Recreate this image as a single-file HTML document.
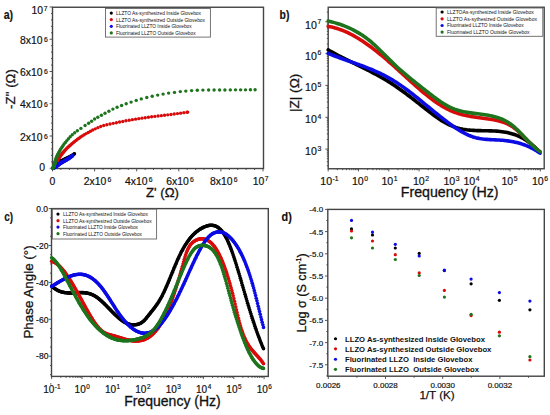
<!DOCTYPE html>
<html><head><meta charset="utf-8"><title>Figure</title><style>html,body{margin:0;padding:0;background:#fff;overflow:hidden;}svg{display:block;}text{font-family:"Liberation Sans",sans-serif;}</style></head><body>
<svg width="550" height="415" viewBox="0 0 550 415">
<rect width="550" height="415" fill="#fff"/>
<g id="pa">
<rect x="52.5" y="7.25" width="211" height="161.25" fill="none" stroke="#444444" stroke-width="1.4"/>
<path d="M49.6 168.25H52.5 M51 161.8H52.5 M51 155.35H52.5 M51 148.9H52.5 M51 142.45H52.5 M49.6 136H52.5 M51 129.55H52.5 M51 123.1H52.5 M51 116.65H52.5 M51 110.2H52.5 M49.6 103.75H52.5 M51 97.3H52.5 M51 90.85H52.5 M51 84.4H52.5 M51 77.95H52.5 M49.6 71.5H52.5 M51 65.05H52.5 M51 58.6H52.5 M51 52.15H52.5 M51 45.7H52.5 M49.6 39.25H52.5 M51 32.8H52.5 M51 26.35H52.5 M51 19.9H52.5 M51 13.45H52.5 M49.6 7H52.5 M52.5 168.5V171.4 M60.92 168.5V170 M69.34 168.5V170 M77.76 168.5V170 M86.18 168.5V170 M94.6 168.5V171.4 M103.02 168.5V170 M111.44 168.5V170 M119.86 168.5V170 M128.28 168.5V170 M136.7 168.5V171.4 M145.12 168.5V170 M153.54 168.5V170 M161.96 168.5V170 M170.38 168.5V170 M178.8 168.5V171.4 M187.22 168.5V170 M195.64 168.5V170 M204.06 168.5V170 M212.48 168.5V170 M220.9 168.5V171.4 M229.32 168.5V170 M237.74 168.5V170 M246.16 168.5V170 M254.58 168.5V170 M263 168.5V171.4" stroke="#444444" stroke-width="0.9" fill="none"/>
</g>
<g id="pa-curves">
<g fill="#000000"><circle cx="53.1" cy="168.2" r="1.75"/><circle cx="53.29" cy="167.97" r="1.75"/><circle cx="53.48" cy="167.74" r="1.75"/><circle cx="53.68" cy="167.51" r="1.75"/><circle cx="53.87" cy="167.28" r="1.75"/><circle cx="54.07" cy="167.06" r="1.75"/><circle cx="54.27" cy="166.83" r="1.75"/><circle cx="54.48" cy="166.61" r="1.75"/><circle cx="54.68" cy="166.39" r="1.75"/><circle cx="54.88" cy="166.17" r="1.75"/><circle cx="55.09" cy="165.95" r="1.75"/><circle cx="55.3" cy="165.74" r="1.75"/><circle cx="55.52" cy="165.53" r="1.75"/><circle cx="55.73" cy="165.32" r="1.75"/><circle cx="55.95" cy="165.11" r="1.75"/><circle cx="56.16" cy="164.91" r="1.75"/><circle cx="56.39" cy="164.7" r="1.75"/><circle cx="56.61" cy="164.5" r="1.75"/><circle cx="56.83" cy="164.3" r="1.75"/><circle cx="57.06" cy="164.11" r="1.75"/><circle cx="57.29" cy="163.91" r="1.75"/><circle cx="57.52" cy="163.72" r="1.75"/><circle cx="57.76" cy="163.52" r="1.75"/><circle cx="58.02" cy="163.31" r="1.75"/><circle cx="58.29" cy="163.09" r="1.75"/><circle cx="58.58" cy="162.87" r="1.75"/><circle cx="58.88" cy="162.64" r="1.75"/><circle cx="59.2" cy="162.4" r="1.75"/><circle cx="59.54" cy="162.15" r="1.75"/><circle cx="59.9" cy="161.9" r="1.75"/><circle cx="60.29" cy="161.64" r="1.75"/><circle cx="60.69" cy="161.37" r="1.75"/><circle cx="61.12" cy="161.1" r="1.75"/><circle cx="61.58" cy="160.82" r="1.75"/><circle cx="62.06" cy="160.53" r="1.75"/><circle cx="62.58" cy="160.24" r="1.75"/><circle cx="63.12" cy="159.95" r="1.75"/><circle cx="63.69" cy="159.64" r="1.75"/><circle cx="64.3" cy="159.33" r="1.75"/><circle cx="64.93" cy="159" r="1.75"/><circle cx="65.6" cy="158.66" r="1.75"/><circle cx="66.3" cy="158.3" r="1.75"/><circle cx="67.03" cy="157.93" r="1.75"/><circle cx="67.81" cy="157.55" r="1.75"/><circle cx="68.64" cy="157.16" r="1.75"/><circle cx="69.5" cy="156.75" r="1.75"/><circle cx="70.39" cy="156.31" r="1.75"/><circle cx="71.32" cy="155.82" r="1.75"/><circle cx="72.27" cy="155.26" r="1.75"/><circle cx="73.24" cy="154.62" r="1.75"/><circle cx="74.22" cy="153.93" r="1.75"/><circle cx="74.4" cy="153.8" r="1.75"/></g>
<g fill="#d80b0b"><circle cx="53.1" cy="168.2" r="1.7"/><circle cx="53.23" cy="167.92" r="1.7"/><circle cx="53.37" cy="167.65" r="1.7"/><circle cx="53.51" cy="167.37" r="1.7"/><circle cx="53.63" cy="167.12" r="1.7"/><circle cx="53.77" cy="166.85" r="1.7"/><circle cx="53.91" cy="166.58" r="1.7"/><circle cx="54.05" cy="166.3" r="1.7"/><circle cx="54.18" cy="166.05" r="1.7"/><circle cx="54.32" cy="165.78" r="1.7"/><circle cx="54.47" cy="165.51" r="1.7"/><circle cx="54.61" cy="165.24" r="1.7"/><circle cx="54.74" cy="164.99" r="1.7"/><circle cx="54.89" cy="164.72" r="1.7"/><circle cx="55.04" cy="164.46" r="1.7"/><circle cx="55.19" cy="164.19" r="1.7"/><circle cx="55.32" cy="163.94" r="1.7"/><circle cx="55.47" cy="163.68" r="1.7"/><circle cx="55.62" cy="163.41" r="1.7"/><circle cx="55.77" cy="163.14" r="1.7"/><circle cx="55.91" cy="162.9" r="1.7"/><circle cx="56.07" cy="162.64" r="1.7"/><circle cx="56.23" cy="162.35" r="1.7"/><circle cx="56.4" cy="162.07" r="1.7"/><circle cx="56.57" cy="161.78" r="1.7"/><circle cx="56.77" cy="161.45" r="1.7"/><circle cx="56.96" cy="161.13" r="1.7"/><circle cx="57.18" cy="160.78" r="1.7"/><circle cx="57.39" cy="160.43" r="1.7"/><circle cx="57.64" cy="160.04" r="1.7"/><circle cx="57.88" cy="159.65" r="1.7"/><circle cx="58.14" cy="159.24" r="1.7"/><circle cx="58.42" cy="158.81" r="1.7"/><circle cx="58.72" cy="158.37" r="1.7"/><circle cx="59.03" cy="157.9" r="1.7"/><circle cx="59.36" cy="157.41" r="1.7"/><circle cx="59.73" cy="156.89" r="1.7"/><circle cx="60.11" cy="156.35" r="1.7"/><circle cx="60.51" cy="155.79" r="1.7"/><circle cx="60.94" cy="155.22" r="1.7"/><circle cx="61.4" cy="154.61" r="1.7"/><circle cx="61.88" cy="153.99" r="1.7"/><circle cx="62.41" cy="153.32" r="1.7"/><circle cx="62.96" cy="152.65" r="1.7"/><circle cx="63.55" cy="151.94" r="1.7"/><circle cx="64.18" cy="151.2" r="1.7"/><circle cx="64.84" cy="150.46" r="1.7"/><circle cx="65.57" cy="149.67" r="1.7"/><circle cx="66.34" cy="148.86" r="1.7"/><circle cx="67.17" cy="148.04" r="1.7"/><circle cx="68.05" cy="147.19" r="1.7"/><circle cx="69.02" cy="146.32" r="1.7"/><circle cx="70.04" cy="145.43" r="1.7"/><circle cx="71.11" cy="144.51" r="1.7"/><circle cx="72.25" cy="143.53" r="1.7"/><circle cx="73.44" cy="142.53" r="1.7"/><circle cx="74.7" cy="141.49" r="1.7"/><circle cx="76.04" cy="140.42" r="1.7"/><circle cx="77.47" cy="139.32" r="1.7"/><circle cx="78.99" cy="138.2" r="1.7"/><circle cx="80.62" cy="137.05" r="1.7"/><circle cx="82.34" cy="135.9" r="1.7"/><circle cx="84.21" cy="134.75" r="1.7"/><circle cx="86.18" cy="133.62" r="1.7"/><circle cx="88.27" cy="132.45" r="1.7"/><circle cx="90.45" cy="131.22" r="1.7"/><circle cx="92.78" cy="130" r="1.7"/><circle cx="95.27" cy="128.84" r="1.7"/><circle cx="97.9" cy="127.67" r="1.7"/><circle cx="100.7" cy="126.54" r="1.7"/><circle cx="103.71" cy="125.52" r="1.7"/><circle cx="106.85" cy="124.69" r="1.7"/><circle cx="110.02" cy="124" r="1.7"/><circle cx="113.2" cy="123.35" r="1.7"/><circle cx="116.38" cy="122.68" r="1.7"/><circle cx="119.58" cy="122.05" r="1.7"/><circle cx="122.76" cy="121.43" r="1.7"/><circle cx="125.94" cy="120.82" r="1.7"/><circle cx="129.16" cy="120.22" r="1.7"/><circle cx="132.35" cy="119.66" r="1.7"/><circle cx="135.57" cy="119.13" r="1.7"/><circle cx="138.77" cy="118.63" r="1.7"/><circle cx="141.97" cy="118.15" r="1.7"/><circle cx="145.21" cy="117.69" r="1.7"/><circle cx="148.42" cy="117.25" r="1.7"/><circle cx="151.63" cy="116.82" r="1.7"/><circle cx="154.87" cy="116.41" r="1.7"/><circle cx="158.08" cy="116.02" r="1.7"/><circle cx="161.33" cy="115.64" r="1.7"/><circle cx="164.55" cy="115.26" r="1.7"/><circle cx="167.76" cy="114.87" r="1.7"/><circle cx="171" cy="114.45" r="1.7"/><circle cx="174.21" cy="114.02" r="1.7"/><circle cx="177.45" cy="113.58" r="1.7"/><circle cx="180.66" cy="113.13" r="1.7"/><circle cx="183.86" cy="112.67" r="1.7"/><circle cx="187.09" cy="112.19" r="1.7"/><circle cx="187.7" cy="112.1" r="1.7"/></g>
<g fill="#0b0be4"><circle cx="53.1" cy="168.2" r="1.95"/><circle cx="53.36" cy="168.04" r="1.95"/><circle cx="53.61" cy="167.88" r="1.95"/><circle cx="53.87" cy="167.72" r="1.95"/><circle cx="54.12" cy="167.56" r="1.95"/><circle cx="54.37" cy="167.4" r="1.95"/><circle cx="54.62" cy="167.24" r="1.95"/><circle cx="54.88" cy="167.08" r="1.95"/><circle cx="55.13" cy="166.91" r="1.95"/><circle cx="55.38" cy="166.75" r="1.95"/><circle cx="55.63" cy="166.59" r="1.95"/><circle cx="55.88" cy="166.42" r="1.95"/><circle cx="56.13" cy="166.25" r="1.95"/><circle cx="56.38" cy="166.08" r="1.95"/><circle cx="56.62" cy="165.91" r="1.95"/><circle cx="56.87" cy="165.74" r="1.95"/><circle cx="57.12" cy="165.57" r="1.95"/><circle cx="57.36" cy="165.39" r="1.95"/><circle cx="57.6" cy="165.21" r="1.95"/><circle cx="57.84" cy="165.03" r="1.95"/><circle cx="58.08" cy="164.85" r="1.95"/><circle cx="58.32" cy="164.67" r="1.95"/><circle cx="58.57" cy="164.48" r="1.95"/><circle cx="58.83" cy="164.28" r="1.95"/><circle cx="59.11" cy="164.07" r="1.95"/><circle cx="59.41" cy="163.86" r="1.95"/><circle cx="59.71" cy="163.63" r="1.95"/><circle cx="60.04" cy="163.4" r="1.95"/><circle cx="60.39" cy="163.16" r="1.95"/><circle cx="60.76" cy="162.92" r="1.95"/><circle cx="61.16" cy="162.68" r="1.95"/><circle cx="61.58" cy="162.43" r="1.95"/><circle cx="62.03" cy="162.18" r="1.95"/><circle cx="62.5" cy="161.93" r="1.95"/><circle cx="63" cy="161.66" r="1.95"/><circle cx="63.53" cy="161.39" r="1.95"/><circle cx="64.09" cy="161.11" r="1.95"/><circle cx="64.67" cy="160.81" r="1.95"/><circle cx="65.27" cy="160.49" r="1.95"/><circle cx="65.9" cy="160.14" r="1.95"/><circle cx="66.55" cy="159.75" r="1.95"/><circle cx="67.23" cy="159.34" r="1.95"/><circle cx="67.94" cy="158.9" r="1.95"/><circle cx="68.68" cy="158.43" r="1.95"/><circle cx="69.45" cy="157.93" r="1.95"/><circle cx="70.25" cy="157.38" r="1.95"/><circle cx="71.07" cy="156.79" r="1.95"/><circle cx="71.91" cy="156.13" r="1.95"/><circle cx="72.6" cy="155.5" r="1.95"/></g>
<g fill="#1d741d"><circle cx="53.1" cy="168.2" r="1.7"/><circle cx="53.22" cy="167.91" r="1.7"/><circle cx="53.34" cy="167.63" r="1.7"/><circle cx="53.45" cy="167.34" r="1.7"/><circle cx="53.56" cy="167.09" r="1.7"/><circle cx="53.67" cy="166.8" r="1.7"/><circle cx="53.78" cy="166.51" r="1.7"/><circle cx="53.89" cy="166.22" r="1.7"/><circle cx="53.99" cy="165.97" r="1.7"/><circle cx="54.1" cy="165.68" r="1.7"/><circle cx="54.2" cy="165.39" r="1.7"/><circle cx="54.3" cy="165.1" r="1.7"/><circle cx="54.4" cy="164.81" r="1.7"/><circle cx="54.48" cy="164.55" r="1.7"/><circle cx="54.57" cy="164.25" r="1.7"/><circle cx="54.67" cy="163.92" r="1.7"/><circle cx="54.78" cy="163.55" r="1.7"/><circle cx="54.88" cy="163.17" r="1.7"/><circle cx="54.99" cy="162.76" r="1.7"/><circle cx="55.11" cy="162.31" r="1.7"/><circle cx="55.23" cy="161.86" r="1.7"/><circle cx="55.37" cy="161.33" r="1.7"/><circle cx="55.51" cy="160.77" r="1.7"/><circle cx="55.67" cy="160.17" r="1.7"/><circle cx="55.86" cy="159.49" r="1.7"/><circle cx="56.07" cy="158.79" r="1.7"/><circle cx="56.3" cy="158.06" r="1.7"/><circle cx="56.59" cy="157.27" r="1.7"/><circle cx="56.92" cy="156.41" r="1.7"/><circle cx="57.31" cy="155.49" r="1.7"/><circle cx="57.76" cy="154.5" r="1.7"/><circle cx="58.26" cy="153.48" r="1.7"/><circle cx="58.83" cy="152.38" r="1.7"/><circle cx="59.48" cy="151.18" r="1.7"/><circle cx="60.19" cy="149.93" r="1.7"/><circle cx="61" cy="148.58" r="1.7"/><circle cx="61.91" cy="147.15" r="1.7"/><circle cx="62.94" cy="145.65" r="1.7"/><circle cx="64.12" cy="144.06" r="1.7"/><circle cx="65.44" cy="142.38" r="1.7"/><circle cx="66.87" cy="140.6" r="1.7"/><circle cx="68.44" cy="138.73" r="1.7"/><circle cx="70.24" cy="136.75" r="1.7"/><circle cx="72.28" cy="134.77" r="1.7"/><circle cx="74.68" cy="132.81" r="1.7"/><circle cx="77.35" cy="130.82" r="1.7"/><circle cx="80.9" cy="128.4" r="1.7"/><circle cx="85.1" cy="125.57" r="1.7"/><circle cx="88.6" cy="123.18" r="1.7"/><circle cx="91.6" cy="121.25" r="1.7"/><circle cx="94.6" cy="119.02" r="1.7"/><circle cx="97.8" cy="117.24" r="1.7"/><circle cx="101.4" cy="115.18" r="1.7"/><circle cx="105" cy="113.19" r="1.7"/><circle cx="108.9" cy="111.2" r="1.7"/><circle cx="112.9" cy="109.09" r="1.7"/><circle cx="117.1" cy="107.3" r="1.7"/><circle cx="121.6" cy="105.49" r="1.7"/><circle cx="126.2" cy="103.7" r="1.7"/><circle cx="131.1" cy="102.09" r="1.7"/><circle cx="136.2" cy="100.39" r="1.7"/><circle cx="141.3" cy="98.9" r="1.7"/><circle cx="146.8" cy="97.49" r="1.7"/><circle cx="152.2" cy="96.29" r="1.7"/><circle cx="157.7" cy="95.1" r="1.7"/><circle cx="163.1" cy="94.1" r="1.7"/><circle cx="168.6" cy="93.1" r="1.7"/><circle cx="174.5" cy="92.4" r="1.7"/><circle cx="180.3" cy="91.6" r="1.7"/><circle cx="185.8" cy="91.1" r="1.7"/><circle cx="191.6" cy="90.6" r="1.7"/><circle cx="197.3" cy="90.3" r="1.7"/><circle cx="202.9" cy="90.1" r="1.7"/><circle cx="208.6" cy="90.04" r="1.7"/><circle cx="214.1" cy="90" r="1.7"/><circle cx="219.6" cy="89.96" r="1.7"/><circle cx="224.9" cy="89.93" r="1.7"/><circle cx="230.3" cy="89.9" r="1.7"/><circle cx="235.5" cy="89.87" r="1.7"/><circle cx="240.6" cy="89.85" r="1.7"/><circle cx="245.5" cy="89.83" r="1.7"/><circle cx="250.4" cy="89.81" r="1.7"/><circle cx="255.1" cy="89.8" r="1.7"/></g>
</g>
<g fill="#111" stroke="#111" stroke-width="0.18">
<text x="43.1" y="14.3" font-size="10.4" text-anchor="end">10</text><text x="43.8" y="10.6" font-size="6.8">7</text>
<text x="42.6" y="43.85" font-size="10.4" text-anchor="end">8x10</text><text x="43.9" y="42.05" font-size="6.8">6</text>
<text x="42.6" y="76.1" font-size="10.4" text-anchor="end">6x10</text><text x="43.9" y="74.3" font-size="6.8">6</text>
<text x="42.6" y="108.35" font-size="10.4" text-anchor="end">4x10</text><text x="43.9" y="106.55" font-size="6.8">6</text>
<text x="42.6" y="140.6" font-size="10.4" text-anchor="end">2x10</text><text x="43.9" y="138.8" font-size="6.8">6</text>
<text x="45" y="171.2" font-size="10.4" text-anchor="end">0</text>
<text x="52.3" y="184.8" font-size="10.4" text-anchor="middle">0</text>
<text x="83.83" y="184.8" font-size="10.4">2x10</text><text x="107.59" y="181.9" font-size="6.8">6</text>
<text x="125.03" y="184.8" font-size="10.4">4x10</text><text x="148.79" y="181.9" font-size="6.8">6</text>
<text x="166.23" y="184.8" font-size="10.4">6x10</text><text x="189.99" y="181.9" font-size="6.8">6</text>
<text x="209.93" y="184.8" font-size="10.4">8x10</text><text x="233.69" y="181.9" font-size="6.8">6</text>
<text x="252.78" y="184.8" font-size="10.4">10</text><text x="264.84" y="181.1" font-size="6.8">7</text>
<text x="162.5" y="197.4" font-size="13.2" text-anchor="middle" stroke-width="0.3">Z' (Ω)</text>
<text transform="translate(15.3 89.1) rotate(-90)" stroke-width="0.3" text-anchor="middle" font-size="13.2">-Z'' (Ω)</text>
<text x="3.7" y="19.4" font-size="12" font-weight="bold" textLength="9.4" lengthAdjust="spacingAndGlyphs">a)</text>
</g>
<rect x="105.5" y="8.5" width="104.9" height="28.6" fill="#fff" stroke="#666" stroke-width="0.9"/>
<circle cx="111.3" cy="13.09" r="1.6" fill="#000000"/>
<text x="116" y="15" font-size="5.3" textLength="85" lengthAdjust="spacingAndGlyphs" fill="#111">LLZTO As-synthesized Inside Glovebox</text>
<circle cx="111.3" cy="19.59" r="1.6" fill="#d80b0b"/>
<text x="116" y="21.5" font-size="5.3" textLength="89" lengthAdjust="spacingAndGlyphs" fill="#111">LLZTO As-synthesized Outside Glovebox</text>
<circle cx="111.3" cy="26.29" r="1.6" fill="#0b0be4"/>
<text x="116" y="28.2" font-size="5.3" textLength="75.6" lengthAdjust="spacingAndGlyphs" fill="#111">Fluorinated LLZTO Inside Glovebox</text>
<circle cx="111.3" cy="32.89" r="1.6" fill="#1d741d"/>
<text x="116" y="34.8" font-size="5.3" textLength="79.6" lengthAdjust="spacingAndGlyphs" fill="#111">Fluorinated LLZTO Outside Glovebox</text>
<rect x="328.2" y="7.25" width="216" height="161.5" fill="none" stroke="#444444" stroke-width="1.4"/>
<path d="M325.4 149.1H328.2 M325.4 117.25H328.2 M325.4 85.4H328.2 M325.4 53.55H328.2 M325.4 21.7H328.2 M326.8 165.75H328.2 M326.8 161.77H328.2 M326.8 158.69H328.2 M326.8 156.17H328.2 M326.8 154.03H328.2 M326.8 152.19H328.2 M326.8 150.56H328.2 M326.8 139.51H328.2 M326.8 133.9H328.2 M326.8 129.92H328.2 M326.8 126.84H328.2 M326.8 124.32H328.2 M326.8 122.18H328.2 M326.8 120.34H328.2 M326.8 118.71H328.2 M326.8 107.66H328.2 M326.8 102.05H328.2 M326.8 98.07H328.2 M326.8 94.99H328.2 M326.8 92.47H328.2 M326.8 90.33H328.2 M326.8 88.49H328.2 M326.8 86.86H328.2 M326.8 75.81H328.2 M326.8 70.2H328.2 M326.8 66.22H328.2 M326.8 63.14H328.2 M326.8 60.62H328.2 M326.8 58.48H328.2 M326.8 56.64H328.2 M326.8 55.01H328.2 M326.8 43.96H328.2 M326.8 38.35H328.2 M326.8 34.37H328.2 M326.8 31.29H328.2 M326.8 28.77H328.2 M326.8 26.63H328.2 M326.8 24.79H328.2 M326.8 23.16H328.2 M326.8 12.11H328.2 M328.2 168.75V171.4 M337.32 168.75V170.2 M342.66 168.75V170.2 M346.44 168.75V170.2 M349.38 168.75V170.2 M351.78 168.75V170.2 M353.81 168.75V170.2 M355.56 168.75V170.2 M357.11 168.75V170.2 M358.5 168.75V171.4 M367.62 168.75V170.2 M372.96 168.75V170.2 M376.74 168.75V170.2 M379.68 168.75V170.2 M382.08 168.75V170.2 M384.11 168.75V170.2 M385.86 168.75V170.2 M387.41 168.75V170.2 M388.8 168.75V171.4 M397.92 168.75V170.2 M403.26 168.75V170.2 M407.04 168.75V170.2 M409.98 168.75V170.2 M412.38 168.75V170.2 M414.41 168.75V170.2 M416.16 168.75V170.2 M417.71 168.75V170.2 M419.1 168.75V171.4 M428.22 168.75V170.2 M433.56 168.75V170.2 M437.34 168.75V170.2 M440.28 168.75V170.2 M442.68 168.75V170.2 M444.71 168.75V170.2 M446.46 168.75V170.2 M448.01 168.75V170.2 M449.4 168.75V171.4 M458.52 168.75V170.2 M463.86 168.75V170.2 M467.64 168.75V170.2 M470.58 168.75V170.2 M472.98 168.75V170.2 M475.01 168.75V170.2 M476.76 168.75V170.2 M478.31 168.75V170.2 M479.7 168.75V171.4 M488.82 168.75V170.2 M494.16 168.75V170.2 M497.94 168.75V170.2 M500.88 168.75V170.2 M503.28 168.75V170.2 M505.31 168.75V170.2 M507.06 168.75V170.2 M508.61 168.75V170.2 M510 168.75V171.4 M519.12 168.75V170.2 M524.46 168.75V170.2 M528.24 168.75V170.2 M531.18 168.75V170.2 M533.58 168.75V170.2 M535.61 168.75V170.2 M537.36 168.75V170.2 M538.91 168.75V170.2 M540.3 168.75V171.4" stroke="#444444" stroke-width="0.9" fill="none"/>
<g fill="none" stroke-width="3.6" stroke-linecap="round" stroke-linejoin="round">
<path d="M328.2 49.93 L329.97 50.94 L331.75 51.92 L333.52 52.89 L335.29 53.85 L337.07 54.79 L338.84 55.72 L340.61 56.63 L342.38 57.54 L344.16 58.44 L345.93 59.33 L347.7 60.21 L349.48 61.09 L351.25 61.97 L353.02 62.84 L354.8 63.71 L356.57 64.58 L358.34 65.45 L360.12 66.32 L361.89 67.2 L363.66 68.08 L365.44 68.97 L367.21 69.87 L368.98 70.77 L370.75 71.69 L372.53 72.61 L374.3 73.55 L376.07 74.5 L377.85 75.47 L379.62 76.45 L381.39 77.45 L383.17 78.47 L384.94 79.51 L386.71 80.57 L388.49 81.65 L390.26 82.76 L392.03 83.89 L393.81 85.04 L395.58 86.23 L397.35 87.44 L399.12 88.68 L400.9 89.94 L402.67 91.23 L404.44 92.53 L406.22 93.85 L407.99 95.19 L409.76 96.54 L411.54 97.91 L413.31 99.28 L415.08 100.67 L416.86 102.06 L418.63 103.45 L420.4 104.85 L422.17 106.25 L423.95 107.65 L425.72 109.04 L427.49 110.43 L429.27 111.8 L431.04 113.15 L432.81 114.48 L434.59 115.79 L436.36 117.06 L438.13 118.29 L439.91 119.48 L441.68 120.61 L443.45 121.7 L445.23 122.73 L447 123.69 L448.77 124.58 L450.54 125.4 L452.32 126.15 L454.09 126.81 L455.86 127.41 L457.64 127.94 L459.41 128.41 L461.18 128.82 L462.96 129.18 L464.73 129.48 L466.5 129.74 L468.28 129.96 L470.05 130.15 L471.82 130.29 L473.59 130.41 L475.37 130.51 L477.14 130.58 L478.91 130.63 L480.69 130.67 L482.46 130.71 L484.23 130.74 L486.01 130.77 L487.78 130.8 L489.55 130.84 L491.33 130.89 L493.1 130.96 L494.87 131.04 L496.65 131.15 L498.42 131.29 L500.19 131.47 L501.96 131.67 L503.74 131.92 L505.51 132.22 L507.28 132.56 L509.06 132.96 L510.83 133.41 L512.6 133.92 L514.38 134.5 L516.15 135.15 L517.92 135.87 L519.7 136.67 L521.47 137.55 L523.24 138.52 L525.02 139.58 L526.79 140.73 L528.56 141.98 L530.33 143.33 L532.11 144.79 L533.88 146.36 L535.65 148.04 L537.43 149.85 L539.2 151.77" stroke="#000000"/>
<path d="M328.2 26.43 L329.98 26.73 L331.76 27.09 L333.54 27.51 L335.32 27.98 L337.1 28.51 L338.88 29.09 L340.66 29.72 L342.44 30.4 L344.22 31.13 L346 31.9 L347.78 32.72 L349.56 33.59 L351.34 34.5 L353.12 35.45 L354.9 36.45 L356.68 37.48 L358.46 38.55 L360.24 39.67 L362.02 40.81 L363.8 41.99 L365.58 43.21 L367.36 44.46 L369.14 45.74 L370.92 47.05 L372.7 48.38 L374.48 49.75 L376.26 51.14 L378.04 52.56 L379.82 54 L381.59 55.46 L383.37 56.95 L385.15 58.45 L386.93 59.98 L388.71 61.52 L390.49 63.07 L392.27 64.65 L394.05 66.23 L395.83 67.83 L397.61 69.44 L399.39 71.06 L401.17 72.68 L402.95 74.31 L404.73 75.94 L406.51 77.57 L408.29 79.19 L410.07 80.81 L411.85 82.42 L413.63 84.02 L415.41 85.61 L417.19 87.18 L418.97 88.73 L420.75 90.26 L422.53 91.77 L424.31 93.25 L426.09 94.7 L427.87 96.13 L429.65 97.52 L431.43 98.88 L433.21 100.2 L434.99 101.47 L436.77 102.71 L438.55 103.9 L440.33 105.05 L442.11 106.15 L443.89 107.19 L445.67 108.18 L447.45 109.11 L449.23 109.99 L451.01 110.8 L452.79 111.55 L454.57 112.24 L456.35 112.87 L458.13 113.46 L459.91 114 L461.69 114.49 L463.47 114.94 L465.25 115.35 L467.03 115.73 L468.81 116.08 L470.59 116.41 L472.37 116.71 L474.15 116.99 L475.93 117.26 L477.71 117.51 L479.49 117.76 L481.27 118 L483.05 118.24 L484.83 118.48 L486.61 118.73 L488.38 118.99 L490.16 119.26 L491.94 119.54 L493.72 119.85 L495.5 120.18 L497.28 120.55 L499.06 120.95 L500.84 121.42 L502.62 121.96 L504.4 122.58 L506.18 123.29 L507.96 124.11 L509.74 125.06 L511.52 126.13 L513.3 127.35 L515.08 128.71 L516.86 130.19 L518.64 131.77 L520.42 133.43 L522.2 135.15 L523.98 136.92 L525.76 138.72 L527.54 140.52 L529.32 142.31 L531.1 144.07 L532.88 145.78 L534.66 147.42 L536.44 148.98 L538.22 150.43 L540 151.76" stroke="#d80b0b"/>
<path d="M328.2 53.44 L329.98 54.16 L331.76 54.86 L333.54 55.55 L335.32 56.23 L337.1 56.89 L338.88 57.54 L340.66 58.19 L342.44 58.83 L344.22 59.46 L346 60.09 L347.78 60.71 L349.56 61.34 L351.34 61.96 L353.12 62.59 L354.9 63.22 L356.68 63.85 L358.46 64.49 L360.24 65.14 L362.02 65.8 L363.8 66.47 L365.58 67.15 L367.36 67.85 L369.14 68.56 L370.92 69.29 L372.7 70.03 L374.48 70.8 L376.26 71.58 L378.04 72.39 L379.82 73.23 L381.59 74.09 L383.37 74.97 L385.15 75.89 L386.93 76.83 L388.71 77.81 L390.49 78.82 L392.27 79.86 L394.05 80.94 L395.83 82.06 L397.61 83.21 L399.39 84.4 L401.17 85.62 L402.95 86.88 L404.73 88.16 L406.51 89.47 L408.29 90.8 L410.07 92.16 L411.85 93.53 L413.63 94.93 L415.41 96.34 L417.19 97.77 L418.97 99.2 L420.75 100.65 L422.53 102.11 L424.31 103.57 L426.09 105.03 L427.87 106.49 L429.65 107.96 L431.43 109.42 L433.21 110.88 L434.99 112.33 L436.77 113.77 L438.55 115.2 L440.33 116.62 L442.11 118.02 L443.89 119.4 L445.67 120.76 L447.45 122.11 L449.23 123.42 L451.01 124.72 L452.79 125.98 L454.57 127.21 L456.35 128.4 L458.13 129.55 L459.91 130.65 L461.69 131.7 L463.47 132.7 L465.25 133.63 L467.03 134.5 L468.81 135.3 L470.59 136.03 L472.37 136.67 L474.15 137.24 L475.93 137.72 L477.71 138.14 L479.49 138.49 L481.27 138.78 L483.05 139.02 L484.83 139.22 L486.61 139.38 L488.38 139.51 L490.16 139.62 L491.94 139.71 L493.72 139.79 L495.5 139.87 L497.28 139.96 L499.06 140.06 L500.84 140.18 L502.62 140.32 L504.4 140.48 L506.18 140.68 L507.96 140.91 L509.74 141.17 L511.52 141.47 L513.3 141.8 L515.08 142.18 L516.86 142.6 L518.64 143.06 L520.42 143.58 L522.2 144.14 L523.98 144.76 L525.76 145.43 L527.54 146.17 L529.32 146.96 L531.1 147.81 L532.88 148.74 L534.66 149.72 L536.44 150.78 L538.22 151.92 L540 153.12" stroke="#0b0be4"/>
<path d="M328.2 21.07 L329.98 21.48 L331.76 21.92 L333.54 22.38 L335.32 22.88 L337.1 23.41 L338.88 23.97 L340.66 24.57 L342.44 25.21 L344.22 25.89 L346 26.6 L347.78 27.36 L349.56 28.15 L351.34 29 L353.12 29.88 L354.9 30.82 L356.68 31.8 L358.46 32.83 L360.24 33.91 L362.02 35.05 L363.8 36.26 L365.58 37.52 L367.36 38.86 L369.14 40.26 L370.92 41.73 L372.7 43.27 L374.48 44.88 L376.26 46.53 L378.04 48.22 L379.82 49.95 L381.59 51.71 L383.37 53.48 L385.15 55.27 L386.93 57.06 L388.71 58.85 L390.49 60.63 L392.27 62.38 L394.05 64.11 L395.83 65.8 L397.61 67.45 L399.39 69.06 L401.17 70.64 L402.95 72.2 L404.73 73.72 L406.51 75.22 L408.29 76.69 L410.07 78.15 L411.85 79.59 L413.63 81.02 L415.41 82.43 L417.19 83.84 L418.97 85.24 L420.75 86.64 L422.53 88.04 L424.31 89.44 L426.09 90.84 L427.87 92.24 L429.65 93.64 L431.43 95.02 L433.21 96.38 L434.99 97.72 L436.77 99.02 L438.55 100.29 L440.33 101.52 L442.11 102.69 L443.89 103.82 L445.67 104.88 L447.45 105.88 L449.23 106.8 L451.01 107.65 L452.79 108.42 L454.57 109.11 L456.35 109.74 L458.13 110.3 L459.91 110.8 L461.69 111.25 L463.47 111.65 L465.25 112.01 L467.03 112.34 L468.81 112.63 L470.59 112.9 L472.37 113.14 L474.15 113.37 L475.93 113.59 L477.71 113.81 L479.49 114.03 L481.27 114.25 L483.05 114.49 L484.83 114.74 L486.61 115.02 L488.38 115.33 L490.16 115.67 L491.94 116.04 L493.72 116.47 L495.5 116.94 L497.28 117.47 L499.06 118.06 L500.84 118.73 L502.62 119.48 L504.4 120.32 L506.18 121.27 L507.96 122.31 L509.74 123.48 L511.52 124.77 L513.3 126.19 L515.08 127.73 L516.86 129.38 L518.64 131.11 L520.42 132.91 L522.2 134.76 L523.98 136.64 L525.76 138.52 L527.54 140.4 L529.32 142.25 L531.1 144.05 L532.88 145.78 L534.66 147.42 L536.44 148.96 L538.22 150.37 L540 151.64" stroke="#1d741d"/>
</g>
<g fill="#111" stroke="#111" stroke-width="0.18">
<text x="316.9" y="155.1" font-size="10.6" text-anchor="end">10</text><text x="317.5" y="150.7" font-size="6.8">3</text>
<text x="316.9" y="123.25" font-size="10.6" text-anchor="end">10</text><text x="317.5" y="118.85" font-size="6.8">4</text>
<text x="316.9" y="91.4" font-size="10.6" text-anchor="end">10</text><text x="317.5" y="87" font-size="6.8">5</text>
<text x="316.9" y="59.55" font-size="10.6" text-anchor="end">10</text><text x="317.5" y="55.15" font-size="6.8">6</text>
<text x="316.9" y="28.7" font-size="10.6" text-anchor="end">10</text><text x="317.5" y="24.3" font-size="6.8">7</text>
<text x="320.33" y="184.6" font-size="10.6">10</text><text x="332.62" y="180.9" font-size="6.8">-1</text>
<text x="351.96" y="184.6" font-size="10.6">10</text><text x="364.25" y="180.9" font-size="6.8">0</text>
<text x="381.46" y="184.6" font-size="10.6">10</text><text x="393.75" y="180.9" font-size="6.8">1</text>
<text x="412.96" y="184.6" font-size="10.6">10</text><text x="425.25" y="180.9" font-size="6.8">2</text>
<text x="443.46" y="184.6" font-size="10.6">10</text><text x="455.75" y="180.9" font-size="6.8">3</text>
<text x="463.46" y="184.6" font-size="10.6">10</text><text x="475.75" y="180.9" font-size="6.8">4</text>
<text x="501.46" y="184.6" font-size="10.6">10</text><text x="513.75" y="180.9" font-size="6.8">5</text>
<text x="531.96" y="184.6" font-size="10.6">10</text><text x="544.25" y="180.9" font-size="6.8">6</text>
<text x="449.7" y="197" font-size="14.2" text-anchor="middle" stroke-width="0.3">Frequency (Hz)</text>
<text transform="translate(299 92.85) rotate(-90)" stroke-width="0.3" text-anchor="middle" font-size="13.6">|Z| (Ω)</text>
<text x="279.6" y="19.1" font-size="12" font-weight="bold" textLength="9.8" lengthAdjust="spacingAndGlyphs">b)</text>
</g>
<rect x="436.2" y="8" width="106.6" height="28.3" fill="#fff" stroke="#666" stroke-width="0.9"/>
<circle cx="442.1" cy="11.99" r="1.6" fill="#000000"/>
<text x="447" y="13.9" font-size="5.3" textLength="86.8" lengthAdjust="spacingAndGlyphs" fill="#111">LLZTOAs-synthesized Inside Glovebox</text>
<circle cx="442.1" cy="18.79" r="1.6" fill="#d80b0b"/>
<text x="447" y="20.7" font-size="5.3" textLength="90" lengthAdjust="spacingAndGlyphs" fill="#111">LLZTO As-sythesized Outside Glovebox</text>
<circle cx="442.1" cy="25.49" r="1.6" fill="#0b0be4"/>
<text x="447" y="27.4" font-size="5.3" textLength="76.7" lengthAdjust="spacingAndGlyphs" fill="#111">Fluorinated LLZTO Inside Glovebox</text>
<circle cx="442.1" cy="32.09" r="1.6" fill="#1d741d"/>
<text x="447" y="34" font-size="5.3" textLength="82.4" lengthAdjust="spacingAndGlyphs" fill="#111">Fluorinated LLZTO Outside Glovebox</text>
<rect x="51.5" y="208.6" width="216.8" height="167.8" fill="none" stroke="#444444" stroke-width="1.4"/>
<path d="M48.7 208.6H51.5 M48.7 245.5H51.5 M48.7 282.4H51.5 M48.7 319.3H51.5 M48.7 356.2H51.5 M50 217.82H51.5 M50 227.05H51.5 M50 236.28H51.5 M50 254.72H51.5 M50 263.95H51.5 M50 273.18H51.5 M50 291.62H51.5 M50 300.85H51.5 M50 310.07H51.5 M50 328.52H51.5 M50 337.75H51.5 M50 346.98H51.5 M50 365.42H51.5 M50 374.65H51.5 M50 383.88H51.5 M51.65 376.4V379.1 M60.79 376.4V377.9 M66.13 376.4V377.9 M69.92 376.4V377.9 M72.86 376.4V377.9 M75.27 376.4V377.9 M77.3 376.4V377.9 M79.06 376.4V377.9 M80.61 376.4V377.9 M82 376.4V379.1 M91.14 376.4V377.9 M96.48 376.4V377.9 M100.27 376.4V377.9 M103.21 376.4V377.9 M105.62 376.4V377.9 M107.65 376.4V377.9 M109.41 376.4V377.9 M110.96 376.4V377.9 M112.35 376.4V379.1 M121.49 376.4V377.9 M126.83 376.4V377.9 M130.62 376.4V377.9 M133.56 376.4V377.9 M135.97 376.4V377.9 M138 376.4V377.9 M139.76 376.4V377.9 M141.31 376.4V377.9 M142.7 376.4V379.1 M151.84 376.4V377.9 M157.18 376.4V377.9 M160.97 376.4V377.9 M163.91 376.4V377.9 M166.32 376.4V377.9 M168.35 376.4V377.9 M170.11 376.4V377.9 M171.66 376.4V377.9 M173.05 376.4V379.1 M182.19 376.4V377.9 M187.53 376.4V377.9 M191.32 376.4V377.9 M194.26 376.4V377.9 M196.67 376.4V377.9 M198.7 376.4V377.9 M200.46 376.4V377.9 M202.01 376.4V377.9 M203.4 376.4V379.1 M212.54 376.4V377.9 M217.88 376.4V377.9 M221.67 376.4V377.9 M224.61 376.4V377.9 M227.02 376.4V377.9 M229.05 376.4V377.9 M230.81 376.4V377.9 M232.36 376.4V377.9 M233.75 376.4V379.1 M242.89 376.4V377.9 M248.23 376.4V377.9 M252.02 376.4V377.9 M254.96 376.4V377.9 M257.37 376.4V377.9 M259.4 376.4V377.9 M261.16 376.4V377.9 M262.71 376.4V377.9 M264.1 376.4V379.1" stroke="#444444" stroke-width="0.9" fill="none"/>
<g fill="#000000"><circle cx="51.65" cy="286.04" r="1.8"/><circle cx="52.31" cy="286.65" r="1.8"/><circle cx="52.97" cy="287.22" r="1.8"/><circle cx="53.63" cy="287.75" r="1.8"/><circle cx="54.29" cy="288.26" r="1.8"/><circle cx="54.95" cy="288.73" r="1.8"/><circle cx="55.61" cy="289.17" r="1.8"/><circle cx="56.27" cy="289.58" r="1.8"/><circle cx="56.93" cy="289.95" r="1.8"/><circle cx="57.59" cy="290.31" r="1.8"/><circle cx="58.25" cy="290.63" r="1.8"/><circle cx="58.91" cy="290.93" r="1.8"/><circle cx="59.57" cy="291.2" r="1.8"/><circle cx="60.23" cy="291.45" r="1.8"/><circle cx="60.89" cy="291.67" r="1.8"/><circle cx="61.55" cy="291.88" r="1.8"/><circle cx="62.21" cy="292.06" r="1.8"/><circle cx="62.87" cy="292.22" r="1.8"/><circle cx="63.53" cy="292.36" r="1.8"/><circle cx="64.19" cy="292.49" r="1.8"/><circle cx="64.85" cy="292.59" r="1.8"/><circle cx="65.51" cy="292.69" r="1.8"/><circle cx="66.17" cy="292.76" r="1.8"/><circle cx="66.83" cy="292.82" r="1.8"/><circle cx="67.49" cy="292.87" r="1.8"/><circle cx="68.15" cy="292.91" r="1.8"/><circle cx="68.81" cy="292.93" r="1.8"/><circle cx="69.47" cy="292.95" r="1.8"/><circle cx="70.13" cy="292.95" r="1.8"/><circle cx="70.79" cy="292.95" r="1.8"/><circle cx="71.45" cy="292.94" r="1.8"/><circle cx="72.11" cy="292.92" r="1.8"/><circle cx="72.77" cy="292.9" r="1.8"/><circle cx="73.43" cy="292.88" r="1.8"/><circle cx="74.09" cy="292.85" r="1.8"/><circle cx="74.75" cy="292.82" r="1.8"/><circle cx="75.41" cy="292.78" r="1.8"/><circle cx="76.07" cy="292.75" r="1.8"/><circle cx="76.73" cy="292.72" r="1.8"/><circle cx="77.39" cy="292.69" r="1.8"/><circle cx="78.05" cy="292.66" r="1.8"/><circle cx="78.71" cy="292.64" r="1.8"/><circle cx="79.37" cy="292.62" r="1.8"/><circle cx="80.03" cy="292.61" r="1.8"/><circle cx="80.69" cy="292.61" r="1.8"/><circle cx="81.35" cy="292.61" r="1.8"/><circle cx="82.01" cy="292.62" r="1.8"/><circle cx="82.67" cy="292.64" r="1.8"/><circle cx="83.33" cy="292.67" r="1.8"/><circle cx="83.99" cy="292.72" r="1.8"/><circle cx="84.65" cy="292.77" r="1.8"/><circle cx="85.31" cy="292.85" r="1.8"/><circle cx="85.97" cy="292.93" r="1.8"/><circle cx="86.63" cy="293.03" r="1.8"/><circle cx="87.29" cy="293.15" r="1.8"/><circle cx="87.95" cy="293.29" r="1.8"/><circle cx="88.61" cy="293.44" r="1.8"/><circle cx="89.27" cy="293.62" r="1.8"/><circle cx="89.93" cy="293.81" r="1.8"/><circle cx="90.59" cy="294.03" r="1.8"/><circle cx="91.25" cy="294.27" r="1.8"/><circle cx="91.91" cy="294.54" r="1.8"/><circle cx="92.57" cy="294.83" r="1.8"/><circle cx="93.23" cy="295.14" r="1.8"/><circle cx="93.89" cy="295.49" r="1.8"/><circle cx="94.55" cy="295.86" r="1.8"/><circle cx="95.21" cy="296.25" r="1.8"/><circle cx="95.87" cy="296.67" r="1.8"/><circle cx="96.53" cy="297.12" r="1.8"/><circle cx="97.19" cy="297.58" r="1.8"/><circle cx="97.85" cy="298.07" r="1.8"/><circle cx="98.51" cy="298.58" r="1.8"/><circle cx="99.17" cy="299.11" r="1.8"/><circle cx="99.83" cy="299.66" r="1.8"/><circle cx="100.49" cy="300.22" r="1.8"/><circle cx="101.15" cy="300.8" r="1.8"/><circle cx="101.81" cy="301.39" r="1.8"/><circle cx="102.47" cy="302" r="1.8"/><circle cx="103.13" cy="302.62" r="1.8"/><circle cx="103.79" cy="303.25" r="1.8"/><circle cx="104.45" cy="303.89" r="1.8"/><circle cx="105.11" cy="304.54" r="1.8"/><circle cx="105.77" cy="305.2" r="1.8"/><circle cx="106.43" cy="305.86" r="1.8"/><circle cx="107.09" cy="306.53" r="1.8"/><circle cx="107.75" cy="307.21" r="1.8"/><circle cx="108.41" cy="307.88" r="1.8"/><circle cx="109.07" cy="308.56" r="1.8"/><circle cx="109.73" cy="309.24" r="1.8"/><circle cx="110.39" cy="309.92" r="1.8"/><circle cx="111.05" cy="310.6" r="1.8"/><circle cx="111.71" cy="311.27" r="1.8"/><circle cx="112.37" cy="311.94" r="1.8"/><circle cx="113.03" cy="312.61" r="1.8"/><circle cx="113.69" cy="313.27" r="1.8"/><circle cx="114.35" cy="313.92" r="1.8"/><circle cx="115.01" cy="314.56" r="1.8"/><circle cx="115.67" cy="315.2" r="1.8"/><circle cx="116.33" cy="315.82" r="1.8"/><circle cx="116.99" cy="316.43" r="1.8"/><circle cx="117.65" cy="317.03" r="1.8"/><circle cx="118.31" cy="317.61" r="1.8"/><circle cx="118.97" cy="318.18" r="1.8"/><circle cx="119.63" cy="318.73" r="1.8"/><circle cx="120.29" cy="319.27" r="1.8"/><circle cx="120.95" cy="319.78" r="1.8"/><circle cx="121.61" cy="320.28" r="1.8"/><circle cx="122.27" cy="320.75" r="1.8"/><circle cx="122.93" cy="321.21" r="1.8"/><circle cx="123.59" cy="321.63" r="1.8"/><circle cx="124.25" cy="322.04" r="1.8"/><circle cx="124.91" cy="322.42" r="1.8"/><circle cx="125.57" cy="322.77" r="1.8"/><circle cx="126.23" cy="323.09" r="1.8"/><circle cx="126.89" cy="323.39" r="1.8"/><circle cx="127.55" cy="323.66" r="1.8"/><circle cx="128.21" cy="323.9" r="1.8"/><circle cx="128.87" cy="324.11" r="1.8"/><circle cx="129.53" cy="324.29" r="1.8"/><circle cx="130.19" cy="324.45" r="1.8"/><circle cx="130.85" cy="324.58" r="1.8"/><circle cx="131.51" cy="324.69" r="1.8"/><circle cx="132.17" cy="324.76" r="1.8"/><circle cx="132.83" cy="324.81" r="1.8"/><circle cx="133.49" cy="324.84" r="1.8"/><circle cx="134.15" cy="324.84" r="1.8"/><circle cx="134.81" cy="324.81" r="1.8"/><circle cx="135.47" cy="324.75" r="1.8"/><circle cx="136.13" cy="324.67" r="1.8"/><circle cx="136.79" cy="324.56" r="1.8"/><circle cx="137.45" cy="324.42" r="1.8"/><circle cx="138.11" cy="324.24" r="1.8"/><circle cx="138.77" cy="324.03" r="1.8"/><circle cx="139.43" cy="323.77" r="1.8"/><circle cx="140.09" cy="323.48" r="1.8"/><circle cx="140.75" cy="323.14" r="1.8"/><circle cx="141.41" cy="322.75" r="1.8"/><circle cx="142.07" cy="322.31" r="1.8"/><circle cx="142.73" cy="321.81" r="1.8"/><circle cx="143.39" cy="321.26" r="1.8"/><circle cx="144.05" cy="320.65" r="1.8"/><circle cx="144.71" cy="319.98" r="1.8"/><circle cx="145.37" cy="319.24" r="1.8"/><circle cx="146.03" cy="318.46" r="1.8"/><circle cx="146.69" cy="317.65" r="1.8"/><circle cx="147.35" cy="316.81" r="1.8"/><circle cx="148.01" cy="315.97" r="1.8"/><circle cx="148.67" cy="315.14" r="1.8"/><circle cx="149.33" cy="314.31" r="1.8"/><circle cx="149.99" cy="313.49" r="1.8"/><circle cx="150.65" cy="312.67" r="1.8"/><circle cx="151.31" cy="311.85" r="1.8"/><circle cx="151.97" cy="311.03" r="1.8"/><circle cx="152.63" cy="310.2" r="1.8"/><circle cx="153.29" cy="309.36" r="1.8"/><circle cx="153.95" cy="308.51" r="1.8"/><circle cx="154.61" cy="307.64" r="1.8"/><circle cx="155.27" cy="306.75" r="1.8"/><circle cx="155.93" cy="305.84" r="1.8"/><circle cx="156.59" cy="304.91" r="1.8"/><circle cx="157.25" cy="303.95" r="1.8"/><circle cx="157.91" cy="302.96" r="1.8"/><circle cx="158.57" cy="301.94" r="1.8"/><circle cx="159.23" cy="300.88" r="1.8"/><circle cx="159.89" cy="299.78" r="1.8"/><circle cx="160.55" cy="298.64" r="1.8"/><circle cx="161.21" cy="297.45" r="1.8"/><circle cx="161.87" cy="296.21" r="1.8"/><circle cx="162.53" cy="294.93" r="1.8"/><circle cx="163.19" cy="293.6" r="1.8"/><circle cx="163.85" cy="292.23" r="1.8"/><circle cx="164.51" cy="290.83" r="1.8"/><circle cx="165.17" cy="289.38" r="1.8"/><circle cx="165.83" cy="287.91" r="1.8"/><circle cx="166.49" cy="286.41" r="1.8"/><circle cx="167.15" cy="284.88" r="1.8"/><circle cx="167.81" cy="283.33" r="1.8"/><circle cx="168.47" cy="281.76" r="1.8"/><circle cx="169.13" cy="280.17" r="1.8"/><circle cx="169.79" cy="278.58" r="1.8"/><circle cx="170.45" cy="276.97" r="1.8"/><circle cx="171.11" cy="275.36" r="1.8"/><circle cx="171.77" cy="273.74" r="1.8"/><circle cx="172.43" cy="272.13" r="1.8"/><circle cx="173.09" cy="270.52" r="1.8"/><circle cx="173.75" cy="268.91" r="1.8"/><circle cx="174.41" cy="267.32" r="1.8"/><circle cx="175.07" cy="265.74" r="1.8"/><circle cx="175.73" cy="264.18" r="1.8"/><circle cx="176.39" cy="262.63" r="1.8"/><circle cx="177.05" cy="261.11" r="1.8"/><circle cx="177.71" cy="259.62" r="1.8"/><circle cx="178.37" cy="258.15" r="1.8"/><circle cx="179.03" cy="256.72" r="1.8"/><circle cx="179.69" cy="255.32" r="1.8"/><circle cx="180.35" cy="253.96" r="1.8"/><circle cx="181.01" cy="252.64" r="1.8"/><circle cx="181.67" cy="251.37" r="1.8"/><circle cx="182.33" cy="250.13" r="1.8"/><circle cx="182.99" cy="248.93" r="1.8"/><circle cx="183.65" cy="247.76" r="1.8"/><circle cx="184.31" cy="246.64" r="1.8"/><circle cx="184.97" cy="245.55" r="1.8"/><circle cx="185.63" cy="244.5" r="1.8"/><circle cx="186.29" cy="243.48" r="1.8"/><circle cx="186.95" cy="242.5" r="1.8"/><circle cx="187.61" cy="241.55" r="1.8"/><circle cx="188.27" cy="240.63" r="1.8"/><circle cx="188.93" cy="239.75" r="1.8"/><circle cx="189.59" cy="238.9" r="1.8"/><circle cx="190.25" cy="238.08" r="1.8"/><circle cx="190.91" cy="237.29" r="1.8"/><circle cx="191.57" cy="236.53" r="1.8"/><circle cx="192.23" cy="235.8" r="1.8"/><circle cx="192.89" cy="235.1" r="1.8"/><circle cx="193.55" cy="234.43" r="1.8"/><circle cx="194.21" cy="233.79" r="1.8"/><circle cx="194.87" cy="233.17" r="1.8"/><circle cx="195.53" cy="232.58" r="1.8"/><circle cx="196.19" cy="232.02" r="1.8"/><circle cx="196.85" cy="231.48" r="1.8"/><circle cx="197.51" cy="230.96" r="1.8"/><circle cx="198.17" cy="230.47" r="1.8"/><circle cx="198.83" cy="230.01" r="1.8"/><circle cx="199.49" cy="229.56" r="1.8"/><circle cx="200.15" cy="229.14" r="1.8"/><circle cx="200.81" cy="228.74" r="1.8"/><circle cx="201.47" cy="228.36" r="1.8"/><circle cx="202.13" cy="228" r="1.8"/><circle cx="202.79" cy="227.66" r="1.8"/><circle cx="203.45" cy="227.34" r="1.8"/><circle cx="204.11" cy="227.03" r="1.8"/><circle cx="204.77" cy="226.75" r="1.8"/><circle cx="205.43" cy="226.48" r="1.8"/><circle cx="206.09" cy="226.24" r="1.8"/><circle cx="206.75" cy="226.02" r="1.8"/><circle cx="207.41" cy="225.82" r="1.8"/><circle cx="208.07" cy="225.65" r="1.8"/><circle cx="208.73" cy="225.5" r="1.8"/><circle cx="209.39" cy="225.39" r="1.8"/><circle cx="210.05" cy="225.31" r="1.8"/><circle cx="210.71" cy="225.26" r="1.8"/><circle cx="211.37" cy="225.25" r="1.8"/><circle cx="212.03" cy="225.27" r="1.8"/><circle cx="212.69" cy="225.33" r="1.8"/><circle cx="213.35" cy="225.43" r="1.8"/><circle cx="214.01" cy="225.58" r="1.8"/><circle cx="214.67" cy="225.76" r="1.8"/><circle cx="215.33" cy="225.99" r="1.8"/><circle cx="215.99" cy="226.27" r="1.8"/><circle cx="216.65" cy="226.6" r="1.8"/><circle cx="217.31" cy="226.98" r="1.8"/><circle cx="217.97" cy="227.41" r="1.8"/><circle cx="218.63" cy="227.89" r="1.8"/><circle cx="219.29" cy="228.43" r="1.8"/><circle cx="219.95" cy="229.02" r="1.8"/><circle cx="220.61" cy="229.68" r="1.8"/><circle cx="221.27" cy="230.39" r="1.8"/><circle cx="221.93" cy="231.17" r="1.8"/><circle cx="222.59" cy="232.01" r="1.8"/><circle cx="223.25" cy="232.92" r="1.8"/><circle cx="223.91" cy="233.89" r="1.8"/><circle cx="224.57" cy="234.94" r="1.8"/><circle cx="225.23" cy="236.05" r="1.8"/><circle cx="225.89" cy="237.24" r="1.8"/><circle cx="226.55" cy="238.5" r="1.8"/><circle cx="227.21" cy="239.84" r="1.8"/><circle cx="227.87" cy="241.25" r="1.8"/><circle cx="228.53" cy="242.74" r="1.8"/><circle cx="229.19" cy="244.29" r="1.8"/><circle cx="229.85" cy="245.92" r="1.8"/><circle cx="230.51" cy="247.6" r="1.8"/><circle cx="231.17" cy="249.35" r="1.8"/><circle cx="231.83" cy="251.16" r="1.8"/><circle cx="232.49" cy="253.01" r="1.8"/><circle cx="233.15" cy="254.92" r="1.8"/><circle cx="233.81" cy="256.88" r="1.8"/><circle cx="234.47" cy="258.88" r="1.8"/><circle cx="235.13" cy="260.92" r="1.8"/><circle cx="235.79" cy="263" r="1.8"/><circle cx="236.45" cy="265.11" r="1.8"/><circle cx="237.11" cy="267.26" r="1.8"/><circle cx="237.77" cy="269.43" r="1.8"/><circle cx="238.43" cy="271.63" r="1.8"/><circle cx="239.09" cy="273.86" r="1.8"/><circle cx="239.75" cy="276.1" r="1.8"/><circle cx="240.41" cy="278.35" r="1.8"/><circle cx="241.07" cy="280.62" r="1.8"/><circle cx="241.73" cy="282.9" r="1.8"/><circle cx="242.39" cy="285.18" r="1.8"/><circle cx="243.05" cy="287.47" r="1.8"/><circle cx="243.71" cy="289.76" r="1.8"/><circle cx="244.37" cy="292.04" r="1.8"/><circle cx="245.03" cy="294.32" r="1.8"/><circle cx="245.69" cy="296.58" r="1.8"/><circle cx="246.35" cy="298.84" r="1.8"/><circle cx="247.01" cy="301.08" r="1.8"/><circle cx="247.67" cy="303.29" r="1.8"/><circle cx="248.33" cy="305.49" r="1.8"/><circle cx="248.99" cy="307.67" r="1.8"/><circle cx="249.65" cy="309.83" r="1.8"/><circle cx="250.31" cy="311.97" r="1.8"/><circle cx="250.97" cy="314.09" r="1.8"/><circle cx="251.63" cy="316.18" r="1.8"/><circle cx="252.29" cy="318.24" r="1.8"/><circle cx="252.95" cy="320.28" r="1.8"/><circle cx="253.61" cy="322.3" r="1.8"/><circle cx="254.27" cy="324.29" r="1.8"/><circle cx="254.93" cy="326.25" r="1.8"/><circle cx="255.59" cy="328.18" r="1.8"/><circle cx="256.25" cy="330.08" r="1.8"/><circle cx="256.91" cy="331.95" r="1.8"/><circle cx="257.57" cy="333.78" r="1.8"/><circle cx="258.23" cy="335.59" r="1.8"/><circle cx="258.89" cy="337.36" r="1.8"/><circle cx="259.55" cy="339.1" r="1.8"/><circle cx="260.21" cy="340.8" r="1.8"/><circle cx="260.87" cy="342.47" r="1.8"/><circle cx="261.53" cy="344.1" r="1.8"/><circle cx="262.19" cy="345.69" r="1.8"/><circle cx="262.85" cy="347.24" r="1.8"/><circle cx="263.51" cy="348.76" r="1.8"/></g>
<g fill="#d80b0b"><circle cx="51.65" cy="261.31" r="1.8"/><circle cx="52.31" cy="261.5" r="1.8"/><circle cx="52.97" cy="261.72" r="1.8"/><circle cx="53.63" cy="261.99" r="1.8"/><circle cx="54.29" cy="262.3" r="1.8"/><circle cx="54.95" cy="262.66" r="1.8"/><circle cx="55.61" cy="263.05" r="1.8"/><circle cx="56.27" cy="263.49" r="1.8"/><circle cx="56.93" cy="263.96" r="1.8"/><circle cx="57.59" cy="264.47" r="1.8"/><circle cx="58.25" cy="265.01" r="1.8"/><circle cx="58.91" cy="265.59" r="1.8"/><circle cx="59.57" cy="266.21" r="1.8"/><circle cx="60.23" cy="266.86" r="1.8"/><circle cx="60.89" cy="267.54" r="1.8"/><circle cx="61.55" cy="268.26" r="1.8"/><circle cx="62.21" cy="269" r="1.8"/><circle cx="62.87" cy="269.78" r="1.8"/><circle cx="63.53" cy="270.58" r="1.8"/><circle cx="64.19" cy="271.41" r="1.8"/><circle cx="64.85" cy="272.27" r="1.8"/><circle cx="65.51" cy="273.15" r="1.8"/><circle cx="66.17" cy="274.06" r="1.8"/><circle cx="66.83" cy="274.99" r="1.8"/><circle cx="67.49" cy="275.95" r="1.8"/><circle cx="68.15" cy="276.93" r="1.8"/><circle cx="68.81" cy="277.93" r="1.8"/><circle cx="69.47" cy="278.94" r="1.8"/><circle cx="70.13" cy="279.98" r="1.8"/><circle cx="70.79" cy="281.04" r="1.8"/><circle cx="71.45" cy="282.11" r="1.8"/><circle cx="72.11" cy="283.2" r="1.8"/><circle cx="72.77" cy="284.3" r="1.8"/><circle cx="73.43" cy="285.42" r="1.8"/><circle cx="74.09" cy="286.55" r="1.8"/><circle cx="74.75" cy="287.69" r="1.8"/><circle cx="75.41" cy="288.85" r="1.8"/><circle cx="76.07" cy="290.01" r="1.8"/><circle cx="76.73" cy="291.18" r="1.8"/><circle cx="77.39" cy="292.37" r="1.8"/><circle cx="78.05" cy="293.55" r="1.8"/><circle cx="78.71" cy="294.75" r="1.8"/><circle cx="79.37" cy="295.95" r="1.8"/><circle cx="80.03" cy="297.16" r="1.8"/><circle cx="80.69" cy="298.36" r="1.8"/><circle cx="81.35" cy="299.58" r="1.8"/><circle cx="82.01" cy="300.79" r="1.8"/><circle cx="82.67" cy="302" r="1.8"/><circle cx="83.33" cy="303.21" r="1.8"/><circle cx="83.99" cy="304.42" r="1.8"/><circle cx="84.65" cy="305.63" r="1.8"/><circle cx="85.31" cy="306.84" r="1.8"/><circle cx="85.97" cy="308.04" r="1.8"/><circle cx="86.63" cy="309.23" r="1.8"/><circle cx="87.29" cy="310.42" r="1.8"/><circle cx="87.95" cy="311.59" r="1.8"/><circle cx="88.61" cy="312.76" r="1.8"/><circle cx="89.27" cy="313.91" r="1.8"/><circle cx="89.93" cy="315.05" r="1.8"/><circle cx="90.59" cy="316.17" r="1.8"/><circle cx="91.25" cy="317.27" r="1.8"/><circle cx="91.91" cy="318.35" r="1.8"/><circle cx="92.57" cy="319.41" r="1.8"/><circle cx="93.23" cy="320.44" r="1.8"/><circle cx="93.89" cy="321.45" r="1.8"/><circle cx="94.55" cy="322.44" r="1.8"/><circle cx="95.21" cy="323.39" r="1.8"/><circle cx="95.87" cy="324.31" r="1.8"/><circle cx="96.53" cy="325.2" r="1.8"/><circle cx="97.19" cy="326.06" r="1.8"/><circle cx="97.85" cy="326.88" r="1.8"/><circle cx="98.51" cy="327.66" r="1.8"/><circle cx="99.17" cy="328.41" r="1.8"/><circle cx="99.83" cy="329.11" r="1.8"/><circle cx="100.49" cy="329.77" r="1.8"/><circle cx="101.15" cy="330.38" r="1.8"/><circle cx="101.81" cy="330.95" r="1.8"/><circle cx="102.47" cy="331.47" r="1.8"/><circle cx="103.13" cy="331.94" r="1.8"/><circle cx="103.79" cy="332.36" r="1.8"/><circle cx="104.45" cy="332.75" r="1.8"/><circle cx="105.11" cy="333.1" r="1.8"/><circle cx="105.77" cy="333.41" r="1.8"/><circle cx="106.43" cy="333.7" r="1.8"/><circle cx="107.09" cy="333.96" r="1.8"/><circle cx="107.75" cy="334.19" r="1.8"/><circle cx="108.41" cy="334.4" r="1.8"/><circle cx="109.07" cy="334.6" r="1.8"/><circle cx="109.73" cy="334.79" r="1.8"/><circle cx="110.39" cy="334.96" r="1.8"/><circle cx="111.05" cy="335.13" r="1.8"/><circle cx="111.71" cy="335.3" r="1.8"/><circle cx="112.37" cy="335.47" r="1.8"/><circle cx="113.03" cy="335.64" r="1.8"/><circle cx="113.69" cy="335.82" r="1.8"/><circle cx="114.35" cy="336.01" r="1.8"/><circle cx="115.01" cy="336.19" r="1.8"/><circle cx="115.67" cy="336.39" r="1.8"/><circle cx="116.33" cy="336.59" r="1.8"/><circle cx="116.99" cy="336.79" r="1.8"/><circle cx="117.65" cy="336.99" r="1.8"/><circle cx="118.31" cy="337.19" r="1.8"/><circle cx="118.97" cy="337.4" r="1.8"/><circle cx="119.63" cy="337.6" r="1.8"/><circle cx="120.29" cy="337.81" r="1.8"/><circle cx="120.95" cy="338.01" r="1.8"/><circle cx="121.61" cy="338.22" r="1.8"/><circle cx="122.27" cy="338.42" r="1.8"/><circle cx="122.93" cy="338.61" r="1.8"/><circle cx="123.59" cy="338.81" r="1.8"/><circle cx="124.25" cy="339" r="1.8"/><circle cx="124.91" cy="339.18" r="1.8"/><circle cx="125.57" cy="339.36" r="1.8"/><circle cx="126.23" cy="339.54" r="1.8"/><circle cx="126.89" cy="339.71" r="1.8"/><circle cx="127.55" cy="339.87" r="1.8"/><circle cx="128.21" cy="340.02" r="1.8"/><circle cx="128.87" cy="340.16" r="1.8"/><circle cx="129.53" cy="340.3" r="1.8"/><circle cx="130.19" cy="340.42" r="1.8"/><circle cx="130.85" cy="340.54" r="1.8"/><circle cx="131.51" cy="340.64" r="1.8"/><circle cx="132.17" cy="340.73" r="1.8"/><circle cx="132.83" cy="340.81" r="1.8"/><circle cx="133.49" cy="340.88" r="1.8"/><circle cx="134.15" cy="340.93" r="1.8"/><circle cx="134.81" cy="340.97" r="1.8"/><circle cx="135.47" cy="340.99" r="1.8"/><circle cx="136.13" cy="341" r="1.8"/><circle cx="136.79" cy="340.99" r="1.8"/><circle cx="137.45" cy="340.96" r="1.8"/><circle cx="138.11" cy="340.92" r="1.8"/><circle cx="138.77" cy="340.86" r="1.8"/><circle cx="139.43" cy="340.78" r="1.8"/><circle cx="140.09" cy="340.68" r="1.8"/><circle cx="140.75" cy="340.56" r="1.8"/><circle cx="141.41" cy="340.42" r="1.8"/><circle cx="142.07" cy="340.26" r="1.8"/><circle cx="142.73" cy="340.08" r="1.8"/><circle cx="143.39" cy="339.88" r="1.8"/><circle cx="144.05" cy="339.65" r="1.8"/><circle cx="144.71" cy="339.4" r="1.8"/><circle cx="145.37" cy="339.12" r="1.8"/><circle cx="146.03" cy="338.82" r="1.8"/><circle cx="146.69" cy="338.49" r="1.8"/><circle cx="147.35" cy="338.14" r="1.8"/><circle cx="148.01" cy="337.76" r="1.8"/><circle cx="148.67" cy="337.35" r="1.8"/><circle cx="149.33" cy="336.91" r="1.8"/><circle cx="149.99" cy="336.45" r="1.8"/><circle cx="150.65" cy="335.95" r="1.8"/><circle cx="151.31" cy="335.43" r="1.8"/><circle cx="151.97" cy="334.87" r="1.8"/><circle cx="152.63" cy="334.28" r="1.8"/><circle cx="153.29" cy="333.66" r="1.8"/><circle cx="153.95" cy="333.01" r="1.8"/><circle cx="154.61" cy="332.33" r="1.8"/><circle cx="155.27" cy="331.61" r="1.8"/><circle cx="155.93" cy="330.85" r="1.8"/><circle cx="156.59" cy="330.06" r="1.8"/><circle cx="157.25" cy="329.24" r="1.8"/><circle cx="157.91" cy="328.38" r="1.8"/><circle cx="158.57" cy="327.48" r="1.8"/><circle cx="159.23" cy="326.54" r="1.8"/><circle cx="159.89" cy="325.56" r="1.8"/><circle cx="160.55" cy="324.55" r="1.8"/><circle cx="161.21" cy="323.5" r="1.8"/><circle cx="161.87" cy="322.4" r="1.8"/><circle cx="162.53" cy="321.27" r="1.8"/><circle cx="163.19" cy="320.09" r="1.8"/><circle cx="163.85" cy="318.87" r="1.8"/><circle cx="164.51" cy="317.61" r="1.8"/><circle cx="165.17" cy="316.3" r="1.8"/><circle cx="165.83" cy="314.95" r="1.8"/><circle cx="166.49" cy="313.56" r="1.8"/><circle cx="167.15" cy="312.12" r="1.8"/><circle cx="167.81" cy="310.63" r="1.8"/><circle cx="168.47" cy="309.1" r="1.8"/><circle cx="169.13" cy="307.52" r="1.8"/><circle cx="169.79" cy="305.89" r="1.8"/><circle cx="170.45" cy="304.21" r="1.8"/><circle cx="171.11" cy="302.49" r="1.8"/><circle cx="171.77" cy="300.71" r="1.8"/><circle cx="172.43" cy="298.88" r="1.8"/><circle cx="173.09" cy="297.01" r="1.8"/><circle cx="173.75" cy="295.08" r="1.8"/><circle cx="174.41" cy="293.1" r="1.8"/><circle cx="175.07" cy="291.07" r="1.8"/><circle cx="175.73" cy="289" r="1.8"/><circle cx="176.39" cy="286.88" r="1.8"/><circle cx="177.05" cy="284.73" r="1.8"/><circle cx="177.71" cy="282.54" r="1.8"/><circle cx="178.37" cy="280.31" r="1.8"/><circle cx="179.03" cy="278.06" r="1.8"/><circle cx="179.69" cy="275.78" r="1.8"/><circle cx="180.35" cy="273.47" r="1.8"/><circle cx="181.01" cy="271.14" r="1.8"/><circle cx="181.67" cy="268.8" r="1.8"/><circle cx="182.33" cy="266.43" r="1.8"/><circle cx="182.99" cy="264.05" r="1.8"/><circle cx="183.65" cy="261.68" r="1.8"/><circle cx="184.31" cy="259.35" r="1.8"/><circle cx="184.97" cy="257.1" r="1.8"/><circle cx="185.63" cy="255" r="1.8"/><circle cx="186.29" cy="253.08" r="1.8"/><circle cx="186.95" cy="251.34" r="1.8"/><circle cx="187.61" cy="249.79" r="1.8"/><circle cx="188.27" cy="248.39" r="1.8"/><circle cx="188.93" cy="247.15" r="1.8"/><circle cx="189.59" cy="246.06" r="1.8"/><circle cx="190.25" cy="245.08" r="1.8"/><circle cx="190.91" cy="244.23" r="1.8"/><circle cx="191.57" cy="243.48" r="1.8"/><circle cx="192.23" cy="242.82" r="1.8"/><circle cx="192.89" cy="242.24" r="1.8"/><circle cx="193.55" cy="241.73" r="1.8"/><circle cx="194.21" cy="241.27" r="1.8"/><circle cx="194.87" cy="240.86" r="1.8"/><circle cx="195.53" cy="240.48" r="1.8"/><circle cx="196.19" cy="240.14" r="1.8"/><circle cx="196.85" cy="239.84" r="1.8"/><circle cx="197.51" cy="239.58" r="1.8"/><circle cx="198.17" cy="239.36" r="1.8"/><circle cx="198.83" cy="239.17" r="1.8"/><circle cx="199.49" cy="239.02" r="1.8"/><circle cx="200.15" cy="238.91" r="1.8"/><circle cx="200.81" cy="238.84" r="1.8"/><circle cx="201.47" cy="238.8" r="1.8"/><circle cx="202.13" cy="238.8" r="1.8"/><circle cx="202.79" cy="238.84" r="1.8"/><circle cx="203.45" cy="238.92" r="1.8"/><circle cx="204.11" cy="239.04" r="1.8"/><circle cx="204.77" cy="239.19" r="1.8"/><circle cx="205.43" cy="239.39" r="1.8"/><circle cx="206.09" cy="239.62" r="1.8"/><circle cx="206.75" cy="239.9" r="1.8"/><circle cx="207.41" cy="240.22" r="1.8"/><circle cx="208.07" cy="240.58" r="1.8"/><circle cx="208.73" cy="240.99" r="1.8"/><circle cx="209.39" cy="241.45" r="1.8"/><circle cx="210.05" cy="241.95" r="1.8"/><circle cx="210.71" cy="242.5" r="1.8"/><circle cx="211.37" cy="243.11" r="1.8"/><circle cx="212.03" cy="243.76" r="1.8"/><circle cx="212.69" cy="244.46" r="1.8"/><circle cx="213.35" cy="245.22" r="1.8"/><circle cx="214.01" cy="246.04" r="1.8"/><circle cx="214.67" cy="246.91" r="1.8"/><circle cx="215.33" cy="247.83" r="1.8"/><circle cx="215.99" cy="248.81" r="1.8"/><circle cx="216.65" cy="249.85" r="1.8"/><circle cx="217.31" cy="250.95" r="1.8"/><circle cx="217.97" cy="252.11" r="1.8"/><circle cx="218.63" cy="253.32" r="1.8"/><circle cx="219.29" cy="254.59" r="1.8"/><circle cx="219.95" cy="255.93" r="1.8"/><circle cx="220.61" cy="257.32" r="1.8"/><circle cx="221.27" cy="258.77" r="1.8"/><circle cx="221.93" cy="260.28" r="1.8"/><circle cx="222.59" cy="261.86" r="1.8"/><circle cx="223.25" cy="263.5" r="1.8"/><circle cx="223.91" cy="265.19" r="1.8"/><circle cx="224.57" cy="266.96" r="1.8"/><circle cx="225.23" cy="268.78" r="1.8"/><circle cx="225.89" cy="270.67" r="1.8"/><circle cx="226.55" cy="272.62" r="1.8"/><circle cx="227.21" cy="274.64" r="1.8"/><circle cx="227.87" cy="276.72" r="1.8"/><circle cx="228.53" cy="278.87" r="1.8"/><circle cx="229.19" cy="281.08" r="1.8"/><circle cx="229.85" cy="283.36" r="1.8"/><circle cx="230.51" cy="285.71" r="1.8"/><circle cx="231.17" cy="288.12" r="1.8"/><circle cx="231.83" cy="290.6" r="1.8"/><circle cx="232.49" cy="293.15" r="1.8"/><circle cx="233.15" cy="295.77" r="1.8"/><circle cx="233.81" cy="298.46" r="1.8"/><circle cx="234.47" cy="301.21" r="1.8"/><circle cx="235.13" cy="304.04" r="1.8"/><circle cx="235.79" cy="306.9" r="1.8"/><circle cx="236.45" cy="309.79" r="1.8"/><circle cx="237.11" cy="312.66" r="1.8"/><circle cx="237.77" cy="315.49" r="1.8"/><circle cx="238.43" cy="318.25" r="1.8"/><circle cx="239.09" cy="320.91" r="1.8"/><circle cx="239.75" cy="323.45" r="1.8"/><circle cx="240.41" cy="325.85" r="1.8"/><circle cx="241.07" cy="328.09" r="1.8"/><circle cx="241.73" cy="330.18" r="1.8"/><circle cx="242.39" cy="332.14" r="1.8"/><circle cx="243.05" cy="333.97" r="1.8"/><circle cx="243.71" cy="335.68" r="1.8"/><circle cx="244.37" cy="337.28" r="1.8"/><circle cx="245.03" cy="338.77" r="1.8"/><circle cx="245.69" cy="340.16" r="1.8"/><circle cx="246.35" cy="341.46" r="1.8"/><circle cx="247.01" cy="342.68" r="1.8"/><circle cx="247.67" cy="343.83" r="1.8"/><circle cx="248.33" cy="344.91" r="1.8"/><circle cx="248.99" cy="345.93" r="1.8"/><circle cx="249.65" cy="346.9" r="1.8"/><circle cx="250.31" cy="347.83" r="1.8"/><circle cx="250.97" cy="348.71" r="1.8"/><circle cx="251.63" cy="349.55" r="1.8"/><circle cx="252.29" cy="350.36" r="1.8"/><circle cx="252.95" cy="351.15" r="1.8"/><circle cx="253.61" cy="351.91" r="1.8"/><circle cx="254.27" cy="352.65" r="1.8"/><circle cx="254.93" cy="353.38" r="1.8"/><circle cx="255.59" cy="354.1" r="1.8"/><circle cx="256.25" cy="354.81" r="1.8"/><circle cx="256.91" cy="355.53" r="1.8"/><circle cx="257.57" cy="356.25" r="1.8"/><circle cx="258.23" cy="356.98" r="1.8"/><circle cx="258.89" cy="357.72" r="1.8"/><circle cx="259.55" cy="358.48" r="1.8"/><circle cx="260.21" cy="359.27" r="1.8"/><circle cx="260.87" cy="360.08" r="1.8"/><circle cx="261.53" cy="360.93" r="1.8"/><circle cx="262.19" cy="361.81" r="1.8"/><circle cx="262.85" cy="362.73" r="1.8"/><circle cx="263.51" cy="363.71" r="1.8"/></g>
<g fill="#0b0be4"><circle cx="51.65" cy="286.42" r="1.8"/><circle cx="52.31" cy="286.01" r="1.8"/><circle cx="52.97" cy="285.61" r="1.8"/><circle cx="53.63" cy="285.2" r="1.8"/><circle cx="54.29" cy="284.8" r="1.8"/><circle cx="54.95" cy="284.39" r="1.8"/><circle cx="55.61" cy="283.98" r="1.8"/><circle cx="56.27" cy="283.58" r="1.8"/><circle cx="56.93" cy="283.17" r="1.8"/><circle cx="57.59" cy="282.77" r="1.8"/><circle cx="58.25" cy="282.37" r="1.8"/><circle cx="58.91" cy="281.98" r="1.8"/><circle cx="59.57" cy="281.59" r="1.8"/><circle cx="60.23" cy="281.2" r="1.8"/><circle cx="60.89" cy="280.82" r="1.8"/><circle cx="61.55" cy="280.44" r="1.8"/><circle cx="62.21" cy="280.07" r="1.8"/><circle cx="62.87" cy="279.7" r="1.8"/><circle cx="63.53" cy="279.35" r="1.8"/><circle cx="64.19" cy="279" r="1.8"/><circle cx="64.85" cy="278.65" r="1.8"/><circle cx="65.51" cy="278.32" r="1.8"/><circle cx="66.17" cy="278" r="1.8"/><circle cx="66.83" cy="277.68" r="1.8"/><circle cx="67.49" cy="277.38" r="1.8"/><circle cx="68.15" cy="277.09" r="1.8"/><circle cx="68.81" cy="276.8" r="1.8"/><circle cx="69.47" cy="276.54" r="1.8"/><circle cx="70.13" cy="276.28" r="1.8"/><circle cx="70.79" cy="276.03" r="1.8"/><circle cx="71.45" cy="275.8" r="1.8"/><circle cx="72.11" cy="275.59" r="1.8"/><circle cx="72.77" cy="275.39" r="1.8"/><circle cx="73.43" cy="275.2" r="1.8"/><circle cx="74.09" cy="275.03" r="1.8"/><circle cx="74.75" cy="274.87" r="1.8"/><circle cx="75.41" cy="274.74" r="1.8"/><circle cx="76.07" cy="274.62" r="1.8"/><circle cx="76.73" cy="274.51" r="1.8"/><circle cx="77.39" cy="274.43" r="1.8"/><circle cx="78.05" cy="274.37" r="1.8"/><circle cx="78.71" cy="274.32" r="1.8"/><circle cx="79.37" cy="274.3" r="1.8"/><circle cx="80.03" cy="274.29" r="1.8"/><circle cx="80.69" cy="274.31" r="1.8"/><circle cx="81.35" cy="274.35" r="1.8"/><circle cx="82.01" cy="274.41" r="1.8"/><circle cx="82.67" cy="274.49" r="1.8"/><circle cx="83.33" cy="274.6" r="1.8"/><circle cx="83.99" cy="274.73" r="1.8"/><circle cx="84.65" cy="274.88" r="1.8"/><circle cx="85.31" cy="275.06" r="1.8"/><circle cx="85.97" cy="275.27" r="1.8"/><circle cx="86.63" cy="275.5" r="1.8"/><circle cx="87.29" cy="275.75" r="1.8"/><circle cx="87.95" cy="276.04" r="1.8"/><circle cx="88.61" cy="276.34" r="1.8"/><circle cx="89.27" cy="276.68" r="1.8"/><circle cx="89.93" cy="277.04" r="1.8"/><circle cx="90.59" cy="277.42" r="1.8"/><circle cx="91.25" cy="277.83" r="1.8"/><circle cx="91.91" cy="278.27" r="1.8"/><circle cx="92.57" cy="278.73" r="1.8"/><circle cx="93.23" cy="279.22" r="1.8"/><circle cx="93.89" cy="279.73" r="1.8"/><circle cx="94.55" cy="280.27" r="1.8"/><circle cx="95.21" cy="280.83" r="1.8"/><circle cx="95.87" cy="281.42" r="1.8"/><circle cx="96.53" cy="282.04" r="1.8"/><circle cx="97.19" cy="282.68" r="1.8"/><circle cx="97.85" cy="283.35" r="1.8"/><circle cx="98.51" cy="284.04" r="1.8"/><circle cx="99.17" cy="284.76" r="1.8"/><circle cx="99.83" cy="285.51" r="1.8"/><circle cx="100.49" cy="286.28" r="1.8"/><circle cx="101.15" cy="287.07" r="1.8"/><circle cx="101.81" cy="287.9" r="1.8"/><circle cx="102.47" cy="288.75" r="1.8"/><circle cx="103.13" cy="289.62" r="1.8"/><circle cx="103.79" cy="290.52" r="1.8"/><circle cx="104.45" cy="291.44" r="1.8"/><circle cx="105.11" cy="292.38" r="1.8"/><circle cx="105.77" cy="293.33" r="1.8"/><circle cx="106.43" cy="294.31" r="1.8"/><circle cx="107.09" cy="295.3" r="1.8"/><circle cx="107.75" cy="296.3" r="1.8"/><circle cx="108.41" cy="297.31" r="1.8"/><circle cx="109.07" cy="298.33" r="1.8"/><circle cx="109.73" cy="299.36" r="1.8"/><circle cx="110.39" cy="300.4" r="1.8"/><circle cx="111.05" cy="301.44" r="1.8"/><circle cx="111.71" cy="302.48" r="1.8"/><circle cx="112.37" cy="303.52" r="1.8"/><circle cx="113.03" cy="304.56" r="1.8"/><circle cx="113.69" cy="305.6" r="1.8"/><circle cx="114.35" cy="306.64" r="1.8"/><circle cx="115.01" cy="307.66" r="1.8"/><circle cx="115.67" cy="308.68" r="1.8"/><circle cx="116.33" cy="309.69" r="1.8"/><circle cx="116.99" cy="310.69" r="1.8"/><circle cx="117.65" cy="311.67" r="1.8"/><circle cx="118.31" cy="312.64" r="1.8"/><circle cx="118.97" cy="313.59" r="1.8"/><circle cx="119.63" cy="314.53" r="1.8"/><circle cx="120.29" cy="315.44" r="1.8"/><circle cx="120.95" cy="316.33" r="1.8"/><circle cx="121.61" cy="317.21" r="1.8"/><circle cx="122.27" cy="318.06" r="1.8"/><circle cx="122.93" cy="318.9" r="1.8"/><circle cx="123.59" cy="319.71" r="1.8"/><circle cx="124.25" cy="320.5" r="1.8"/><circle cx="124.91" cy="321.27" r="1.8"/><circle cx="125.57" cy="322.02" r="1.8"/><circle cx="126.23" cy="322.75" r="1.8"/><circle cx="126.89" cy="323.45" r="1.8"/><circle cx="127.55" cy="324.14" r="1.8"/><circle cx="128.21" cy="324.8" r="1.8"/><circle cx="128.87" cy="325.44" r="1.8"/><circle cx="129.53" cy="326.05" r="1.8"/><circle cx="130.19" cy="326.64" r="1.8"/><circle cx="130.85" cy="327.21" r="1.8"/><circle cx="131.51" cy="327.76" r="1.8"/><circle cx="132.17" cy="328.28" r="1.8"/><circle cx="132.83" cy="328.77" r="1.8"/><circle cx="133.49" cy="329.25" r="1.8"/><circle cx="134.15" cy="329.69" r="1.8"/><circle cx="134.81" cy="330.11" r="1.8"/><circle cx="135.47" cy="330.51" r="1.8"/><circle cx="136.13" cy="330.88" r="1.8"/><circle cx="136.79" cy="331.23" r="1.8"/><circle cx="137.45" cy="331.55" r="1.8"/><circle cx="138.11" cy="331.84" r="1.8"/><circle cx="138.77" cy="332.1" r="1.8"/><circle cx="139.43" cy="332.34" r="1.8"/><circle cx="140.09" cy="332.55" r="1.8"/><circle cx="140.75" cy="332.74" r="1.8"/><circle cx="141.41" cy="332.89" r="1.8"/><circle cx="142.07" cy="333.02" r="1.8"/><circle cx="142.73" cy="333.12" r="1.8"/><circle cx="143.39" cy="333.2" r="1.8"/><circle cx="144.05" cy="333.24" r="1.8"/><circle cx="144.71" cy="333.25" r="1.8"/><circle cx="145.37" cy="333.24" r="1.8"/><circle cx="146.03" cy="333.19" r="1.8"/><circle cx="146.69" cy="333.12" r="1.8"/><circle cx="147.35" cy="333.01" r="1.8"/><circle cx="148.01" cy="332.88" r="1.8"/><circle cx="148.67" cy="332.71" r="1.8"/><circle cx="149.33" cy="332.52" r="1.8"/><circle cx="149.99" cy="332.29" r="1.8"/><circle cx="150.65" cy="332.03" r="1.8"/><circle cx="151.31" cy="331.74" r="1.8"/><circle cx="151.97" cy="331.42" r="1.8"/><circle cx="152.63" cy="331.06" r="1.8"/><circle cx="153.29" cy="330.68" r="1.8"/><circle cx="153.95" cy="330.26" r="1.8"/><circle cx="154.61" cy="329.8" r="1.8"/><circle cx="155.27" cy="329.32" r="1.8"/><circle cx="155.93" cy="328.8" r="1.8"/><circle cx="156.59" cy="328.25" r="1.8"/><circle cx="157.25" cy="327.66" r="1.8"/><circle cx="157.91" cy="327.05" r="1.8"/><circle cx="158.57" cy="326.4" r="1.8"/><circle cx="159.23" cy="325.73" r="1.8"/><circle cx="159.89" cy="325.02" r="1.8"/><circle cx="160.55" cy="324.29" r="1.8"/><circle cx="161.21" cy="323.52" r="1.8"/><circle cx="161.87" cy="322.73" r="1.8"/><circle cx="162.53" cy="321.91" r="1.8"/><circle cx="163.19" cy="321.07" r="1.8"/><circle cx="163.85" cy="320.19" r="1.8"/><circle cx="164.51" cy="319.29" r="1.8"/><circle cx="165.17" cy="318.37" r="1.8"/><circle cx="165.83" cy="317.42" r="1.8"/><circle cx="166.49" cy="316.44" r="1.8"/><circle cx="167.15" cy="315.44" r="1.8"/><circle cx="167.81" cy="314.42" r="1.8"/><circle cx="168.47" cy="313.38" r="1.8"/><circle cx="169.13" cy="312.31" r="1.8"/><circle cx="169.79" cy="311.22" r="1.8"/><circle cx="170.45" cy="310.11" r="1.8"/><circle cx="171.11" cy="308.98" r="1.8"/><circle cx="171.77" cy="307.82" r="1.8"/><circle cx="172.43" cy="306.65" r="1.8"/><circle cx="173.09" cy="305.46" r="1.8"/><circle cx="173.75" cy="304.25" r="1.8"/><circle cx="174.41" cy="303.03" r="1.8"/><circle cx="175.07" cy="301.78" r="1.8"/><circle cx="175.73" cy="300.52" r="1.8"/><circle cx="176.39" cy="299.24" r="1.8"/><circle cx="177.05" cy="297.94" r="1.8"/><circle cx="177.71" cy="296.63" r="1.8"/><circle cx="178.37" cy="295.31" r="1.8"/><circle cx="179.03" cy="293.97" r="1.8"/><circle cx="179.69" cy="292.61" r="1.8"/><circle cx="180.35" cy="291.25" r="1.8"/><circle cx="181.01" cy="289.87" r="1.8"/><circle cx="181.67" cy="288.47" r="1.8"/><circle cx="182.33" cy="287.07" r="1.8"/><circle cx="182.99" cy="285.65" r="1.8"/><circle cx="183.65" cy="284.23" r="1.8"/><circle cx="184.31" cy="282.79" r="1.8"/><circle cx="184.97" cy="281.35" r="1.8"/><circle cx="185.63" cy="279.89" r="1.8"/><circle cx="186.29" cy="278.43" r="1.8"/><circle cx="186.95" cy="276.97" r="1.8"/><circle cx="187.61" cy="275.5" r="1.8"/><circle cx="188.27" cy="274.03" r="1.8"/><circle cx="188.93" cy="272.56" r="1.8"/><circle cx="189.59" cy="271.09" r="1.8"/><circle cx="190.25" cy="269.63" r="1.8"/><circle cx="190.91" cy="268.17" r="1.8"/><circle cx="191.57" cy="266.72" r="1.8"/><circle cx="192.23" cy="265.28" r="1.8"/><circle cx="192.89" cy="263.85" r="1.8"/><circle cx="193.55" cy="262.43" r="1.8"/><circle cx="194.21" cy="261.02" r="1.8"/><circle cx="194.87" cy="259.63" r="1.8"/><circle cx="195.53" cy="258.25" r="1.8"/><circle cx="196.19" cy="256.9" r="1.8"/><circle cx="196.85" cy="255.56" r="1.8"/><circle cx="197.51" cy="254.25" r="1.8"/><circle cx="198.17" cy="252.96" r="1.8"/><circle cx="198.83" cy="251.69" r="1.8"/><circle cx="199.49" cy="250.45" r="1.8"/><circle cx="200.15" cy="249.24" r="1.8"/><circle cx="200.81" cy="248.06" r="1.8"/><circle cx="201.47" cy="246.92" r="1.8"/><circle cx="202.13" cy="245.8" r="1.8"/><circle cx="202.79" cy="244.72" r="1.8"/><circle cx="203.45" cy="243.68" r="1.8"/><circle cx="204.11" cy="242.68" r="1.8"/><circle cx="204.77" cy="241.71" r="1.8"/><circle cx="205.43" cy="240.79" r="1.8"/><circle cx="206.09" cy="239.91" r="1.8"/><circle cx="206.75" cy="239.08" r="1.8"/><circle cx="207.41" cy="238.29" r="1.8"/><circle cx="208.07" cy="237.55" r="1.8"/><circle cx="208.73" cy="236.86" r="1.8"/><circle cx="209.39" cy="236.21" r="1.8"/><circle cx="210.05" cy="235.61" r="1.8"/><circle cx="210.71" cy="235.06" r="1.8"/><circle cx="211.37" cy="234.55" r="1.8"/><circle cx="212.03" cy="234.09" r="1.8"/><circle cx="212.69" cy="233.67" r="1.8"/><circle cx="213.35" cy="233.29" r="1.8"/><circle cx="214.01" cy="232.96" r="1.8"/><circle cx="214.67" cy="232.68" r="1.8"/><circle cx="215.33" cy="232.43" r="1.8"/><circle cx="215.99" cy="232.23" r="1.8"/><circle cx="216.65" cy="232.07" r="1.8"/><circle cx="217.31" cy="231.96" r="1.8"/><circle cx="217.97" cy="231.88" r="1.8"/><circle cx="218.63" cy="231.85" r="1.8"/><circle cx="219.29" cy="231.86" r="1.8"/><circle cx="219.95" cy="231.91" r="1.8"/><circle cx="220.61" cy="232" r="1.8"/><circle cx="221.27" cy="232.13" r="1.8"/><circle cx="221.93" cy="232.3" r="1.8"/><circle cx="222.59" cy="232.51" r="1.8"/><circle cx="223.25" cy="232.75" r="1.8"/><circle cx="223.91" cy="233.04" r="1.8"/><circle cx="224.57" cy="233.36" r="1.8"/><circle cx="225.23" cy="233.73" r="1.8"/><circle cx="225.89" cy="234.13" r="1.8"/><circle cx="226.55" cy="234.56" r="1.8"/><circle cx="227.21" cy="235.04" r="1.8"/><circle cx="227.87" cy="235.55" r="1.8"/><circle cx="228.53" cy="236.1" r="1.8"/><circle cx="229.19" cy="236.68" r="1.8"/><circle cx="229.85" cy="237.3" r="1.8"/><circle cx="230.51" cy="237.95" r="1.8"/><circle cx="231.17" cy="238.64" r="1.8"/><circle cx="231.83" cy="239.36" r="1.8"/><circle cx="232.49" cy="240.12" r="1.8"/><circle cx="233.15" cy="240.91" r="1.8"/><circle cx="233.81" cy="241.73" r="1.8"/><circle cx="234.47" cy="242.6" r="1.8"/><circle cx="235.13" cy="243.49" r="1.8"/><circle cx="235.79" cy="244.43" r="1.8"/><circle cx="236.45" cy="245.4" r="1.8"/><circle cx="237.11" cy="246.42" r="1.8"/><circle cx="237.77" cy="247.47" r="1.8"/><circle cx="238.43" cy="248.57" r="1.8"/><circle cx="239.09" cy="249.71" r="1.8"/><circle cx="239.75" cy="250.9" r="1.8"/><circle cx="240.41" cy="252.13" r="1.8"/><circle cx="241.07" cy="253.41" r="1.8"/><circle cx="241.73" cy="254.73" r="1.8"/><circle cx="242.39" cy="256.11" r="1.8"/><circle cx="243.05" cy="257.53" r="1.8"/><circle cx="243.71" cy="259.01" r="1.8"/><circle cx="244.37" cy="260.54" r="1.8"/><circle cx="245.03" cy="262.12" r="1.8"/><circle cx="245.69" cy="263.76" r="1.8"/><circle cx="246.35" cy="265.45" r="1.8"/><circle cx="247.01" cy="267.2" r="1.8"/><circle cx="247.67" cy="269" r="1.8"/><circle cx="248.33" cy="270.87" r="1.8"/><circle cx="248.99" cy="272.79" r="1.8"/><circle cx="249.65" cy="274.78" r="1.8"/><circle cx="250.31" cy="276.83" r="1.8"/><circle cx="250.97" cy="278.94" r="1.8"/><circle cx="251.63" cy="281.12" r="1.8"/><circle cx="252.29" cy="283.36" r="1.8"/><circle cx="252.95" cy="285.67" r="1.8"/><circle cx="253.61" cy="288.05" r="1.8"/><circle cx="254.27" cy="290.5" r="1.8"/><circle cx="254.93" cy="293.01" r="1.8"/><circle cx="255.59" cy="295.57" r="1.8"/><circle cx="256.25" cy="298.18" r="1.8"/><circle cx="256.91" cy="300.83" r="1.8"/><circle cx="257.57" cy="303.51" r="1.8"/><circle cx="258.23" cy="306.21" r="1.8"/><circle cx="258.89" cy="308.91" r="1.8"/><circle cx="259.55" cy="311.62" r="1.8"/><circle cx="260.21" cy="314.32" r="1.8"/><circle cx="260.87" cy="317" r="1.8"/><circle cx="261.53" cy="319.66" r="1.8"/><circle cx="262.19" cy="322.28" r="1.8"/><circle cx="262.85" cy="324.86" r="1.8"/><circle cx="263.51" cy="327.38" r="1.8"/></g>
<g fill="#1d741d"><circle cx="51.65" cy="257.86" r="1.8"/><circle cx="52.31" cy="258.3" r="1.8"/><circle cx="52.97" cy="258.81" r="1.8"/><circle cx="53.63" cy="259.38" r="1.8"/><circle cx="54.29" cy="260.01" r="1.8"/><circle cx="54.95" cy="260.7" r="1.8"/><circle cx="55.61" cy="261.45" r="1.8"/><circle cx="56.27" cy="262.25" r="1.8"/><circle cx="56.93" cy="263.09" r="1.8"/><circle cx="57.59" cy="263.99" r="1.8"/><circle cx="58.25" cy="264.93" r="1.8"/><circle cx="58.91" cy="265.91" r="1.8"/><circle cx="59.57" cy="266.93" r="1.8"/><circle cx="60.23" cy="267.98" r="1.8"/><circle cx="60.89" cy="269.07" r="1.8"/><circle cx="61.55" cy="270.19" r="1.8"/><circle cx="62.21" cy="271.33" r="1.8"/><circle cx="62.87" cy="272.5" r="1.8"/><circle cx="63.53" cy="273.69" r="1.8"/><circle cx="64.19" cy="274.9" r="1.8"/><circle cx="64.85" cy="276.13" r="1.8"/><circle cx="65.51" cy="277.37" r="1.8"/><circle cx="66.17" cy="278.62" r="1.8"/><circle cx="66.83" cy="279.88" r="1.8"/><circle cx="67.49" cy="281.14" r="1.8"/><circle cx="68.15" cy="282.4" r="1.8"/><circle cx="68.81" cy="283.67" r="1.8"/><circle cx="69.47" cy="284.93" r="1.8"/><circle cx="70.13" cy="286.19" r="1.8"/><circle cx="70.79" cy="287.44" r="1.8"/><circle cx="71.45" cy="288.69" r="1.8"/><circle cx="72.11" cy="289.94" r="1.8"/><circle cx="72.77" cy="291.18" r="1.8"/><circle cx="73.43" cy="292.42" r="1.8"/><circle cx="74.09" cy="293.64" r="1.8"/><circle cx="74.75" cy="294.86" r="1.8"/><circle cx="75.41" cy="296.08" r="1.8"/><circle cx="76.07" cy="297.28" r="1.8"/><circle cx="76.73" cy="298.47" r="1.8"/><circle cx="77.39" cy="299.65" r="1.8"/><circle cx="78.05" cy="300.83" r="1.8"/><circle cx="78.71" cy="301.98" r="1.8"/><circle cx="79.37" cy="303.13" r="1.8"/><circle cx="80.03" cy="304.27" r="1.8"/><circle cx="80.69" cy="305.39" r="1.8"/><circle cx="81.35" cy="306.49" r="1.8"/><circle cx="82.01" cy="307.58" r="1.8"/><circle cx="82.67" cy="308.66" r="1.8"/><circle cx="83.33" cy="309.72" r="1.8"/><circle cx="83.99" cy="310.76" r="1.8"/><circle cx="84.65" cy="311.78" r="1.8"/><circle cx="85.31" cy="312.78" r="1.8"/><circle cx="85.97" cy="313.77" r="1.8"/><circle cx="86.63" cy="314.74" r="1.8"/><circle cx="87.29" cy="315.68" r="1.8"/><circle cx="87.95" cy="316.61" r="1.8"/><circle cx="88.61" cy="317.52" r="1.8"/><circle cx="89.27" cy="318.41" r="1.8"/><circle cx="89.93" cy="319.28" r="1.8"/><circle cx="90.59" cy="320.13" r="1.8"/><circle cx="91.25" cy="320.97" r="1.8"/><circle cx="91.91" cy="321.78" r="1.8"/><circle cx="92.57" cy="322.58" r="1.8"/><circle cx="93.23" cy="323.36" r="1.8"/><circle cx="93.89" cy="324.12" r="1.8"/><circle cx="94.55" cy="324.86" r="1.8"/><circle cx="95.21" cy="325.58" r="1.8"/><circle cx="95.87" cy="326.29" r="1.8"/><circle cx="96.53" cy="326.98" r="1.8"/><circle cx="97.19" cy="327.65" r="1.8"/><circle cx="97.85" cy="328.3" r="1.8"/><circle cx="98.51" cy="328.93" r="1.8"/><circle cx="99.17" cy="329.55" r="1.8"/><circle cx="99.83" cy="330.15" r="1.8"/><circle cx="100.49" cy="330.73" r="1.8"/><circle cx="101.15" cy="331.29" r="1.8"/><circle cx="101.81" cy="331.84" r="1.8"/><circle cx="102.47" cy="332.37" r="1.8"/><circle cx="103.13" cy="332.88" r="1.8"/><circle cx="103.79" cy="333.37" r="1.8"/><circle cx="104.45" cy="333.85" r="1.8"/><circle cx="105.11" cy="334.31" r="1.8"/><circle cx="105.77" cy="334.75" r="1.8"/><circle cx="106.43" cy="335.18" r="1.8"/><circle cx="107.09" cy="335.59" r="1.8"/><circle cx="107.75" cy="335.98" r="1.8"/><circle cx="108.41" cy="336.35" r="1.8"/><circle cx="109.07" cy="336.71" r="1.8"/><circle cx="109.73" cy="337.05" r="1.8"/><circle cx="110.39" cy="337.38" r="1.8"/><circle cx="111.05" cy="337.69" r="1.8"/><circle cx="111.71" cy="337.98" r="1.8"/><circle cx="112.37" cy="338.26" r="1.8"/><circle cx="113.03" cy="338.52" r="1.8"/><circle cx="113.69" cy="338.77" r="1.8"/><circle cx="114.35" cy="339" r="1.8"/><circle cx="115.01" cy="339.21" r="1.8"/><circle cx="115.67" cy="339.41" r="1.8"/><circle cx="116.33" cy="339.59" r="1.8"/><circle cx="116.99" cy="339.76" r="1.8"/><circle cx="117.65" cy="339.92" r="1.8"/><circle cx="118.31" cy="340.06" r="1.8"/><circle cx="118.97" cy="340.18" r="1.8"/><circle cx="119.63" cy="340.3" r="1.8"/><circle cx="120.29" cy="340.4" r="1.8"/><circle cx="120.95" cy="340.48" r="1.8"/><circle cx="121.61" cy="340.56" r="1.8"/><circle cx="122.27" cy="340.62" r="1.8"/><circle cx="122.93" cy="340.66" r="1.8"/><circle cx="123.59" cy="340.7" r="1.8"/><circle cx="124.25" cy="340.72" r="1.8"/><circle cx="124.91" cy="340.74" r="1.8"/><circle cx="125.57" cy="340.74" r="1.8"/><circle cx="126.23" cy="340.73" r="1.8"/><circle cx="126.89" cy="340.7" r="1.8"/><circle cx="127.55" cy="340.67" r="1.8"/><circle cx="128.21" cy="340.63" r="1.8"/><circle cx="128.87" cy="340.58" r="1.8"/><circle cx="129.53" cy="340.51" r="1.8"/><circle cx="130.19" cy="340.44" r="1.8"/><circle cx="130.85" cy="340.36" r="1.8"/><circle cx="131.51" cy="340.27" r="1.8"/><circle cx="132.17" cy="340.17" r="1.8"/><circle cx="132.83" cy="340.06" r="1.8"/><circle cx="133.49" cy="339.94" r="1.8"/><circle cx="134.15" cy="339.82" r="1.8"/><circle cx="134.81" cy="339.69" r="1.8"/><circle cx="135.47" cy="339.55" r="1.8"/><circle cx="136.13" cy="339.4" r="1.8"/><circle cx="136.79" cy="339.24" r="1.8"/><circle cx="137.45" cy="339.08" r="1.8"/><circle cx="138.11" cy="338.91" r="1.8"/><circle cx="138.77" cy="338.73" r="1.8"/><circle cx="139.43" cy="338.55" r="1.8"/><circle cx="140.09" cy="338.36" r="1.8"/><circle cx="140.75" cy="338.16" r="1.8"/><circle cx="141.41" cy="337.94" r="1.8"/><circle cx="142.07" cy="337.71" r="1.8"/><circle cx="142.73" cy="337.47" r="1.8"/><circle cx="143.39" cy="337.21" r="1.8"/><circle cx="144.05" cy="336.93" r="1.8"/><circle cx="144.71" cy="336.63" r="1.8"/><circle cx="145.37" cy="336.31" r="1.8"/><circle cx="146.03" cy="335.97" r="1.8"/><circle cx="146.69" cy="335.6" r="1.8"/><circle cx="147.35" cy="335.21" r="1.8"/><circle cx="148.01" cy="334.79" r="1.8"/><circle cx="148.67" cy="334.35" r="1.8"/><circle cx="149.33" cy="333.87" r="1.8"/><circle cx="149.99" cy="333.36" r="1.8"/><circle cx="150.65" cy="332.82" r="1.8"/><circle cx="151.31" cy="332.24" r="1.8"/><circle cx="151.97" cy="331.63" r="1.8"/><circle cx="152.63" cy="330.98" r="1.8"/><circle cx="153.29" cy="330.29" r="1.8"/><circle cx="153.95" cy="329.56" r="1.8"/><circle cx="154.61" cy="328.79" r="1.8"/><circle cx="155.27" cy="327.98" r="1.8"/><circle cx="155.93" cy="327.12" r="1.8"/><circle cx="156.59" cy="326.22" r="1.8"/><circle cx="157.25" cy="325.28" r="1.8"/><circle cx="157.91" cy="324.3" r="1.8"/><circle cx="158.57" cy="323.28" r="1.8"/><circle cx="159.23" cy="322.22" r="1.8"/><circle cx="159.89" cy="321.13" r="1.8"/><circle cx="160.55" cy="320" r="1.8"/><circle cx="161.21" cy="318.84" r="1.8"/><circle cx="161.87" cy="317.64" r="1.8"/><circle cx="162.53" cy="316.42" r="1.8"/><circle cx="163.19" cy="315.16" r="1.8"/><circle cx="163.85" cy="313.87" r="1.8"/><circle cx="164.51" cy="312.56" r="1.8"/><circle cx="165.17" cy="311.22" r="1.8"/><circle cx="165.83" cy="309.85" r="1.8"/><circle cx="166.49" cy="308.46" r="1.8"/><circle cx="167.15" cy="307.05" r="1.8"/><circle cx="167.81" cy="305.61" r="1.8"/><circle cx="168.47" cy="304.16" r="1.8"/><circle cx="169.13" cy="302.68" r="1.8"/><circle cx="169.79" cy="301.19" r="1.8"/><circle cx="170.45" cy="299.67" r="1.8"/><circle cx="171.11" cy="298.15" r="1.8"/><circle cx="171.77" cy="296.61" r="1.8"/><circle cx="172.43" cy="295.05" r="1.8"/><circle cx="173.09" cy="293.48" r="1.8"/><circle cx="173.75" cy="291.9" r="1.8"/><circle cx="174.41" cy="290.31" r="1.8"/><circle cx="175.07" cy="288.72" r="1.8"/><circle cx="175.73" cy="287.11" r="1.8"/><circle cx="176.39" cy="285.5" r="1.8"/><circle cx="177.05" cy="283.88" r="1.8"/><circle cx="177.71" cy="282.26" r="1.8"/><circle cx="178.37" cy="280.64" r="1.8"/><circle cx="179.03" cy="279.01" r="1.8"/><circle cx="179.69" cy="277.39" r="1.8"/><circle cx="180.35" cy="275.78" r="1.8"/><circle cx="181.01" cy="274.18" r="1.8"/><circle cx="181.67" cy="272.59" r="1.8"/><circle cx="182.33" cy="271.01" r="1.8"/><circle cx="182.99" cy="269.46" r="1.8"/><circle cx="183.65" cy="267.93" r="1.8"/><circle cx="184.31" cy="266.42" r="1.8"/><circle cx="184.97" cy="264.94" r="1.8"/><circle cx="185.63" cy="263.5" r="1.8"/><circle cx="186.29" cy="262.09" r="1.8"/><circle cx="186.95" cy="260.72" r="1.8"/><circle cx="187.61" cy="259.39" r="1.8"/><circle cx="188.27" cy="258.1" r="1.8"/><circle cx="188.93" cy="256.87" r="1.8"/><circle cx="189.59" cy="255.68" r="1.8"/><circle cx="190.25" cy="254.55" r="1.8"/><circle cx="190.91" cy="253.48" r="1.8"/><circle cx="191.57" cy="252.46" r="1.8"/><circle cx="192.23" cy="251.51" r="1.8"/><circle cx="192.89" cy="250.63" r="1.8"/><circle cx="193.55" cy="249.82" r="1.8"/><circle cx="194.21" cy="249.08" r="1.8"/><circle cx="194.87" cy="248.42" r="1.8"/><circle cx="195.53" cy="247.84" r="1.8"/><circle cx="196.19" cy="247.32" r="1.8"/><circle cx="196.85" cy="246.88" r="1.8"/><circle cx="197.51" cy="246.5" r="1.8"/><circle cx="198.17" cy="246.18" r="1.8"/><circle cx="198.83" cy="245.92" r="1.8"/><circle cx="199.49" cy="245.71" r="1.8"/><circle cx="200.15" cy="245.56" r="1.8"/><circle cx="200.81" cy="245.45" r="1.8"/><circle cx="201.47" cy="245.39" r="1.8"/><circle cx="202.13" cy="245.36" r="1.8"/><circle cx="202.79" cy="245.37" r="1.8"/><circle cx="203.45" cy="245.42" r="1.8"/><circle cx="204.11" cy="245.49" r="1.8"/><circle cx="204.77" cy="245.59" r="1.8"/><circle cx="205.43" cy="245.72" r="1.8"/><circle cx="206.09" cy="245.88" r="1.8"/><circle cx="206.75" cy="246.08" r="1.8"/><circle cx="207.41" cy="246.31" r="1.8"/><circle cx="208.07" cy="246.59" r="1.8"/><circle cx="208.73" cy="246.91" r="1.8"/><circle cx="209.39" cy="247.28" r="1.8"/><circle cx="210.05" cy="247.71" r="1.8"/><circle cx="210.71" cy="248.19" r="1.8"/><circle cx="211.37" cy="248.72" r="1.8"/><circle cx="212.03" cy="249.32" r="1.8"/><circle cx="212.69" cy="249.99" r="1.8"/><circle cx="213.35" cy="250.72" r="1.8"/><circle cx="214.01" cy="251.53" r="1.8"/><circle cx="214.67" cy="252.41" r="1.8"/><circle cx="215.33" cy="253.37" r="1.8"/><circle cx="215.99" cy="254.41" r="1.8"/><circle cx="216.65" cy="255.54" r="1.8"/><circle cx="217.31" cy="256.76" r="1.8"/><circle cx="217.97" cy="258.07" r="1.8"/><circle cx="218.63" cy="259.47" r="1.8"/><circle cx="219.29" cy="260.97" r="1.8"/><circle cx="219.95" cy="262.58" r="1.8"/><circle cx="220.61" cy="264.29" r="1.8"/><circle cx="221.27" cy="266.1" r="1.8"/><circle cx="221.93" cy="268.01" r="1.8"/><circle cx="222.59" cy="270.01" r="1.8"/><circle cx="223.25" cy="272.09" r="1.8"/><circle cx="223.91" cy="274.25" r="1.8"/><circle cx="224.57" cy="276.47" r="1.8"/><circle cx="225.23" cy="278.74" r="1.8"/><circle cx="225.89" cy="281.07" r="1.8"/><circle cx="226.55" cy="283.44" r="1.8"/><circle cx="227.21" cy="285.84" r="1.8"/><circle cx="227.87" cy="288.26" r="1.8"/><circle cx="228.53" cy="290.71" r="1.8"/><circle cx="229.19" cy="293.16" r="1.8"/><circle cx="229.85" cy="295.61" r="1.8"/><circle cx="230.51" cy="298.06" r="1.8"/><circle cx="231.17" cy="300.49" r="1.8"/><circle cx="231.83" cy="302.9" r="1.8"/><circle cx="232.49" cy="305.28" r="1.8"/><circle cx="233.15" cy="307.63" r="1.8"/><circle cx="233.81" cy="309.94" r="1.8"/><circle cx="234.47" cy="312.21" r="1.8"/><circle cx="235.13" cy="314.45" r="1.8"/><circle cx="235.79" cy="316.66" r="1.8"/><circle cx="236.45" cy="318.82" r="1.8"/><circle cx="237.11" cy="320.95" r="1.8"/><circle cx="237.77" cy="323.04" r="1.8"/><circle cx="238.43" cy="325.09" r="1.8"/><circle cx="239.09" cy="327.1" r="1.8"/><circle cx="239.75" cy="329.07" r="1.8"/><circle cx="240.41" cy="331" r="1.8"/><circle cx="241.07" cy="332.89" r="1.8"/><circle cx="241.73" cy="334.74" r="1.8"/><circle cx="242.39" cy="336.54" r="1.8"/><circle cx="243.05" cy="338.3" r="1.8"/><circle cx="243.71" cy="340.02" r="1.8"/><circle cx="244.37" cy="341.7" r="1.8"/><circle cx="245.03" cy="343.33" r="1.8"/><circle cx="245.69" cy="344.91" r="1.8"/><circle cx="246.35" cy="346.45" r="1.8"/><circle cx="247.01" cy="347.94" r="1.8"/><circle cx="247.67" cy="349.39" r="1.8"/><circle cx="248.33" cy="350.78" r="1.8"/><circle cx="248.99" cy="352.13" r="1.8"/><circle cx="249.65" cy="353.43" r="1.8"/><circle cx="250.31" cy="354.68" r="1.8"/><circle cx="250.97" cy="355.88" r="1.8"/><circle cx="251.63" cy="357.03" r="1.8"/><circle cx="252.29" cy="358.13" r="1.8"/><circle cx="252.95" cy="359.18" r="1.8"/><circle cx="253.61" cy="360.17" r="1.8"/><circle cx="254.27" cy="361.12" r="1.8"/><circle cx="254.93" cy="362" r="1.8"/><circle cx="255.59" cy="362.84" r="1.8"/><circle cx="256.25" cy="363.62" r="1.8"/><circle cx="256.91" cy="364.34" r="1.8"/><circle cx="257.57" cy="365.01" r="1.8"/><circle cx="258.23" cy="365.62" r="1.8"/><circle cx="258.89" cy="366.18" r="1.8"/><circle cx="259.55" cy="366.68" r="1.8"/><circle cx="260.21" cy="367.12" r="1.8"/><circle cx="260.87" cy="367.5" r="1.8"/><circle cx="261.53" cy="367.82" r="1.8"/><circle cx="262.19" cy="368.08" r="1.8"/><circle cx="262.85" cy="368.28" r="1.8"/><circle cx="263.51" cy="368.42" r="1.8"/></g>
<g fill="#111" stroke="#111" stroke-width="0.18">
<text x="48.1" y="212.1" font-size="8.5" text-anchor="end">0.0</text>
<text x="48.4" y="248.7" font-size="8.5" text-anchor="end">-20</text>
<text x="48.4" y="285.6" font-size="8.5" text-anchor="end">-40</text>
<text x="48.4" y="322.5" font-size="8.5" text-anchor="end">-60</text>
<text x="48.4" y="359.4" font-size="8.5" text-anchor="end">-80</text>
<text x="43.19" y="393" font-size="10.0">10</text><text x="54.82" y="389.4" font-size="6.4">-1</text>
<text x="74.61" y="393" font-size="10.0">10</text><text x="86.23" y="389.4" font-size="6.4">0</text>
<text x="104.96" y="393" font-size="10.0">10</text><text x="116.58" y="389.4" font-size="6.4">1</text>
<text x="135.31" y="393" font-size="10.0">10</text><text x="146.93" y="389.4" font-size="6.4">2</text>
<text x="165.66" y="393" font-size="10.0">10</text><text x="177.28" y="389.4" font-size="6.4">3</text>
<text x="196.01" y="393" font-size="10.0">10</text><text x="207.63" y="389.4" font-size="6.4">4</text>
<text x="226.36" y="393" font-size="10.0">10</text><text x="237.98" y="389.4" font-size="6.4">5</text>
<text x="256.71" y="393" font-size="10.0">10</text><text x="268.33" y="389.4" font-size="6.4">6</text>
<text x="172.5" y="405.6" font-size="14" text-anchor="middle" stroke-width="0.3">Frequency (Hz)</text>
<text transform="translate(33.4 292) rotate(-90)" stroke-width="0.3" text-anchor="middle" font-size="13.4">Phase Angle (°)</text>
<text x="4.2" y="220.9" font-size="12" font-weight="bold" textLength="8.8" lengthAdjust="spacingAndGlyphs">c)</text>
</g>
<rect x="52.4" y="209.2" width="104.2" height="29.8" fill="#fff" stroke="#666" stroke-width="0.9"/>
<circle cx="58" cy="214.09" r="1.6" fill="#000000"/>
<text x="63" y="216" font-size="5.3" textLength="85" lengthAdjust="spacingAndGlyphs" fill="#111">LLZTO As-synthesized Inside Glovebox</text>
<circle cx="58" cy="220.69" r="1.6" fill="#d80b0b"/>
<text x="63" y="222.6" font-size="5.3" textLength="88.6" lengthAdjust="spacingAndGlyphs" fill="#111">LLZTO As-synthesized Outside Glovebox</text>
<circle cx="58" cy="227.09" r="1.6" fill="#0b0be4"/>
<text x="63" y="229" font-size="5.3" textLength="75" lengthAdjust="spacingAndGlyphs" fill="#111">Fluorinated LLZTO Inside Glovebox</text>
<circle cx="58" cy="233.69" r="1.6" fill="#1d741d"/>
<text x="63" y="235.6" font-size="5.3" textLength="79" lengthAdjust="spacingAndGlyphs" fill="#111">Fluorinated LLZTO Outside Glovebox</text>
<rect x="327.8" y="209.4" width="216.5" height="166.8" fill="none" stroke="#444444" stroke-width="1.4"/>
<path d="M325 209.4H327.8 M326.3 220.5H327.8 M325 231.6H327.8 M326.3 242.7H327.8 M325 253.8H327.8 M326.3 264.9H327.8 M325 276H327.8 M326.3 287.1H327.8 M325 298.2H327.8 M326.3 309.3H327.8 M325 320.4H327.8 M326.3 331.5H327.8 M325 342.6H327.8 M326.3 353.7H327.8 M325 364.8H327.8 M326.3 375.9H327.8 M328.3 376.2V379 M356.9 376.2V377.8 M385.5 376.2V379 M414.1 376.2V377.8 M442.7 376.2V379 M471.3 376.2V377.8 M499.9 376.2V379 M528.5 376.2V377.8" stroke="#444444" stroke-width="0.9" fill="none"/>
<g fill="#000000"><circle cx="351.5" cy="228.9" r="1.6"/><circle cx="372.5" cy="234.9" r="1.6"/><circle cx="395.3" cy="248" r="1.6"/><circle cx="419.2" cy="253.4" r="1.6"/><circle cx="444.4" cy="270.6" r="1.6"/><circle cx="471.1" cy="283.8" r="1.6"/><circle cx="499.4" cy="300.3" r="1.6"/><circle cx="529.9" cy="309.8" r="1.6"/></g>
<g fill="#d80b0b"><circle cx="351.5" cy="231" r="1.6"/><circle cx="372.5" cy="241" r="1.6"/><circle cx="395.3" cy="254.7" r="1.6"/><circle cx="419.2" cy="272.9" r="1.6"/><circle cx="444.4" cy="290.4" r="1.6"/><circle cx="471.1" cy="315.6" r="1.6"/><circle cx="499.4" cy="332.2" r="1.6"/><circle cx="529.9" cy="360" r="1.6"/></g>
<g fill="#1d741d"><circle cx="351.5" cy="237.8" r="1.6"/><circle cx="372.5" cy="248" r="1.6"/><circle cx="395.3" cy="259.5" r="1.6"/><circle cx="419.2" cy="275.5" r="1.6"/><circle cx="444.4" cy="297.1" r="1.6"/><circle cx="471.1" cy="314.3" r="1.6"/><circle cx="499.4" cy="335.8" r="1.6"/><circle cx="529.9" cy="356.7" r="1.6"/></g>
<g fill="#0b0be4"><circle cx="351.5" cy="220.4" r="1.6"/><circle cx="372.5" cy="232.1" r="1.6"/><circle cx="395.3" cy="244.3" r="1.6"/><circle cx="419.2" cy="256" r="1.6"/><circle cx="444.4" cy="270.2" r="1.6"/><circle cx="471.1" cy="279.1" r="1.6"/><circle cx="499.4" cy="292.6" r="1.6"/><circle cx="529.9" cy="301.1" r="1.6"/></g>
<g fill="#111" stroke="#111" stroke-width="0.18">
<text x="323.1" y="212.3" font-size="8" text-anchor="end">-4.0</text>
<text x="323.1" y="234.5" font-size="8" text-anchor="end">-4.5</text>
<text x="323.1" y="256.7" font-size="8" text-anchor="end">-5.0</text>
<text x="323.1" y="278.9" font-size="8" text-anchor="end">-5.5</text>
<text x="323.1" y="301.1" font-size="8" text-anchor="end">-6.0</text>
<text x="323.1" y="323.3" font-size="8" text-anchor="end">-6.5</text>
<text x="323.1" y="345.5" font-size="8" text-anchor="end">-7.0</text>
<text x="323.1" y="367.7" font-size="8" text-anchor="end">-7.5</text>
<text x="328.3" y="388.2" font-size="8" text-anchor="middle">0.0026</text>
<text x="385.5" y="388.2" font-size="8" text-anchor="middle">0.0028</text>
<text x="442.7" y="388.2" font-size="8" text-anchor="middle">0.0030</text>
<text x="499.9" y="388.2" font-size="8" text-anchor="middle">0.0032</text>
<text x="437" y="399" font-size="11.6" text-anchor="middle" stroke-width="0.25">1/T (K)</text>
<text transform="translate(305.5 292.9) rotate(-90)" stroke-width="0.3" text-anchor="middle" font-size="12.6">Log σ (S cm<tspan dy="-4.2" font-size="7.2">-1</tspan><tspan dy="4.2">)</tspan></text>
<text x="281.6" y="220.9" font-size="12" font-weight="bold" textLength="10.2" lengthAdjust="spacingAndGlyphs">d)</text>
</g>
<circle cx="335.5" cy="338.76" r="1.6" fill="#000000"/>
<text x="345" y="341.5" font-size="7.6" font-weight="bold" textLength="140" lengthAdjust="spacingAndGlyphs" fill="#111">LLZO As-synthesized Inside Glovebox</text>
<circle cx="335.5" cy="348.86" r="1.6" fill="#d80b0b"/>
<text x="345" y="351.6" font-size="7.6" font-weight="bold" textLength="146.4" lengthAdjust="spacingAndGlyphs" fill="#111">LLZO As-synthesized Outside Glovebox</text>
<circle cx="335.5" cy="359.26" r="1.6" fill="#0b0be4"/>
<text x="345" y="362" font-size="7.6" font-weight="bold" textLength="127.5" lengthAdjust="spacingAndGlyphs" fill="#111">Fluorinated LLZO&#160; Inside Glovebox</text>
<circle cx="335.5" cy="369.36" r="1.6" fill="#1d741d"/>
<text x="345" y="372.1" font-size="7.6" font-weight="bold" textLength="134" lengthAdjust="spacingAndGlyphs" fill="#111">Fluorinated LLZO&#160; Outside Glovebox</text>
</svg>
</body></html>
